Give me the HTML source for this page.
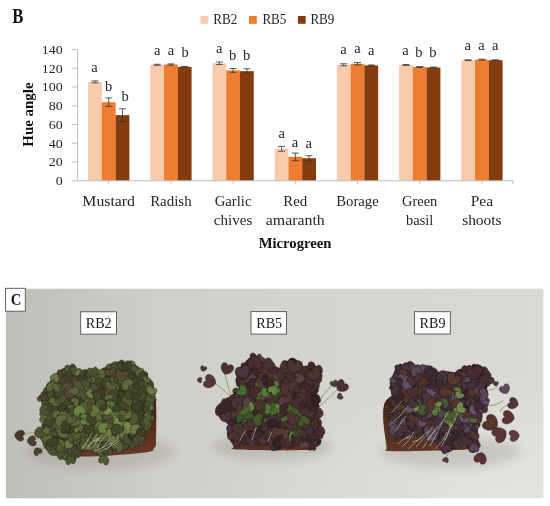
<!DOCTYPE html>
<html><head><meta charset="utf-8"><title>Figure</title>
<style>
html,body{margin:0;padding:0;background:#fff}
svg{display:block}
text{font-family:"Liberation Serif","DejaVu Serif",serif;fill:#262626}
.b{font-weight:bold;fill:#111}
</style></head><body>
<svg width="550" height="506" viewBox="0 0 550 506">
<rect width="550" height="506" fill="#fff"/>
<text class="b" x="12.3" y="23.1" font-size="20.6" textLength="11.1" lengthAdjust="spacingAndGlyphs">B</text>
<rect x="200.5" y="16" width="7.8" height="7.8" fill="#F8CBAD"/>
<text x="213.3" y="23.9" font-size="13.6" textLength="24" lengthAdjust="spacingAndGlyphs">RB2</text>
<rect x="249" y="16" width="7.8" height="7.8" fill="#ED7D31"/>
<text x="262.4" y="23.9" font-size="13.6" textLength="24" lengthAdjust="spacingAndGlyphs">RB5</text>
<rect x="297.9" y="16" width="7.8" height="7.8" fill="#843C0C"/>
<text x="310.4" y="23.9" font-size="13.6" textLength="24" lengthAdjust="spacingAndGlyphs">RB9</text>
<rect x="88.07" y="81.85" width="13.80" height="98.95" fill="#F8CBAD"/>
<rect x="101.82" y="102.20" width="13.80" height="78.60" fill="#ED7D31"/>
<rect x="115.57" y="115.15" width="13.80" height="65.65" fill="#843C0C"/>
<rect x="150.28" y="64.78" width="13.80" height="116.02" fill="#F8CBAD"/>
<rect x="164.03" y="64.50" width="13.80" height="116.30" fill="#ED7D31"/>
<rect x="177.78" y="66.85" width="13.80" height="113.95" fill="#843C0C"/>
<rect x="212.47" y="63.28" width="13.80" height="117.52" fill="#F8CBAD"/>
<rect x="226.22" y="70.41" width="13.80" height="110.39" fill="#ED7D31"/>
<rect x="239.97" y="71.16" width="13.80" height="109.64" fill="#843C0C"/>
<rect x="274.68" y="148.82" width="13.80" height="31.98" fill="#F8CBAD"/>
<rect x="288.43" y="156.88" width="13.80" height="23.92" fill="#ED7D31"/>
<rect x="302.18" y="158.20" width="13.80" height="22.60" fill="#843C0C"/>
<rect x="336.88" y="64.78" width="13.80" height="116.02" fill="#F8CBAD"/>
<rect x="350.62" y="63.75" width="13.80" height="117.05" fill="#ED7D31"/>
<rect x="364.38" y="65.44" width="13.80" height="115.36" fill="#843C0C"/>
<rect x="399.08" y="64.97" width="13.80" height="115.83" fill="#F8CBAD"/>
<rect x="412.83" y="67.03" width="13.80" height="113.77" fill="#ED7D31"/>
<rect x="426.58" y="67.50" width="13.80" height="113.30" fill="#843C0C"/>
<rect x="461.28" y="60.19" width="13.80" height="120.61" fill="#F8CBAD"/>
<rect x="475.03" y="59.62" width="13.80" height="121.18" fill="#ED7D31"/>
<rect x="488.78" y="60.19" width="13.80" height="120.61" fill="#843C0C"/>
<path d="M77.6 49.5V180.8H513.0" fill="none" stroke="#bdbdbd" stroke-width="1"/>
<path d="M71.6 180.80H77.6M71.6 162.04H77.6M71.6 143.28H77.6M71.6 124.53H77.6M71.6 105.77H77.6M71.6 87.01H77.6M71.6 68.25H77.6M71.6 49.49H77.6M108.70 180.8v3.2M170.90 180.8v3.2M233.10 180.8v3.2M295.30 180.8v3.2M357.50 180.8v3.2M419.70 180.8v3.2M481.90 180.8v3.2M513.00 180.8v3.2" fill="none" stroke="#bdbdbd" stroke-width="1"/>
<text x="62.7" y="185.20" font-size="13" text-anchor="end" textLength="7" lengthAdjust="spacingAndGlyphs">0</text>
<text x="62.7" y="166.44" font-size="13" text-anchor="end" textLength="14" lengthAdjust="spacingAndGlyphs">20</text>
<text x="62.7" y="147.68" font-size="13" text-anchor="end" textLength="14" lengthAdjust="spacingAndGlyphs">40</text>
<text x="62.7" y="128.93" font-size="13" text-anchor="end" textLength="14" lengthAdjust="spacingAndGlyphs">60</text>
<text x="62.7" y="110.17" font-size="13" text-anchor="end" textLength="14" lengthAdjust="spacingAndGlyphs">80</text>
<text x="62.7" y="91.41" font-size="13" text-anchor="end" textLength="21" lengthAdjust="spacingAndGlyphs">100</text>
<text x="62.7" y="72.65" font-size="13" text-anchor="end" textLength="21" lengthAdjust="spacingAndGlyphs">120</text>
<text x="62.7" y="53.89" font-size="13" text-anchor="end" textLength="21" lengthAdjust="spacingAndGlyphs">140</text>
<path d="M94.95 80.85V82.85M91.45 80.85h7M91.45 82.85h7M108.70 97.90V106.50M105.20 97.90h7M105.20 106.50h7M122.45 108.75V121.55M118.95 108.75h7M118.95 121.55h7M157.15 64.28V65.28M153.65 64.28h7M153.65 65.28h7M170.90 63.90V65.10M167.40 63.90h7M167.40 65.10h7M184.65 66.35V67.35M181.15 66.35h7M181.15 67.35h7M219.35 61.98V64.58M215.85 61.98h7M215.85 64.58h7M233.10 68.51V72.31M229.60 68.51h7M229.60 72.31h7M246.85 68.76V73.56M243.35 68.76h7M243.35 73.56h7M281.55 146.42V151.22M278.05 146.42h7M278.05 151.22h7M295.30 153.08V160.68M291.80 153.08h7M291.80 160.68h7M309.05 155.70V160.70M305.55 155.70h7M305.55 160.70h7M343.75 63.78V65.78M340.25 63.78h7M340.25 65.78h7M357.50 62.55V64.95M354.00 62.55h7M354.00 64.95h7M371.25 64.94V65.94M367.75 64.94h7M367.75 65.94h7M405.95 64.47V65.47M402.45 64.47h7M402.45 65.47h7M419.70 66.53V67.53M416.20 66.53h7M416.20 67.53h7M433.45 67.00V68.00M429.95 67.00h7M429.95 68.00h7M468.15 59.79V60.59M464.65 59.79h7M464.65 60.59h7M481.90 59.22V60.02M478.40 59.22h7M478.40 60.02h7M495.65 59.79V60.59M492.15 59.79h7M492.15 60.59h7" fill="none" stroke="#333" stroke-width="0.8"/>
<text x="94.4" y="71.6" font-size="14.5" text-anchor="middle">a</text>
<text x="108.7" y="91.4" font-size="14.5" text-anchor="middle">b</text>
<text x="125" y="101" font-size="14.5" text-anchor="middle">b</text>
<text x="157.3" y="54.5" font-size="14.5" text-anchor="middle">a</text>
<text x="171" y="54.5" font-size="14.5" text-anchor="middle">a</text>
<text x="185" y="56.5" font-size="14.5" text-anchor="middle">b</text>
<text x="219.1" y="52.7" font-size="14.5" text-anchor="middle">a</text>
<text x="232.6" y="59.9" font-size="14.5" text-anchor="middle">b</text>
<text x="246.6" y="60.4" font-size="14.5" text-anchor="middle">b</text>
<text x="281.6" y="138.2" font-size="14.5" text-anchor="middle">a</text>
<text x="294.9" y="146.6" font-size="14.5" text-anchor="middle">a</text>
<text x="308.6" y="148.1" font-size="14.5" text-anchor="middle">a</text>
<text x="343.4" y="54.4" font-size="14.5" text-anchor="middle">a</text>
<text x="357.4" y="53.4" font-size="14.5" text-anchor="middle">a</text>
<text x="371.2" y="55.2" font-size="14.5" text-anchor="middle">a</text>
<text x="405.5" y="54.9" font-size="14.5" text-anchor="middle">a</text>
<text x="418.8" y="56.7" font-size="14.5" text-anchor="middle">b</text>
<text x="432.8" y="56.7" font-size="14.5" text-anchor="middle">b</text>
<text x="467.8" y="50.4" font-size="14.5" text-anchor="middle">a</text>
<text x="481.5" y="49.9" font-size="14.5" text-anchor="middle">a</text>
<text x="495.3" y="50.4" font-size="14.5" text-anchor="middle">a</text>
<text x="82.35" y="205.9" font-size="13.8" textLength="52.7" lengthAdjust="spacingAndGlyphs">Mustard</text>
<text x="150.15" y="205.9" font-size="13.8" textLength="41.5" lengthAdjust="spacingAndGlyphs">Radish</text>
<text x="214.75" y="205.9" font-size="13.8" textLength="36.7" lengthAdjust="spacingAndGlyphs">Garlic</text>
<text x="213.85" y="225.1" font-size="13.8" textLength="38.5" lengthAdjust="spacingAndGlyphs">chives</text>
<text x="283.30" y="205.9" font-size="13.8" textLength="24" lengthAdjust="spacingAndGlyphs">Red</text>
<text x="265.85" y="225.1" font-size="13.8" textLength="58.9" lengthAdjust="spacingAndGlyphs">amaranth</text>
<text x="336.25" y="205.9" font-size="13.8" textLength="42.5" lengthAdjust="spacingAndGlyphs">Borage</text>
<text x="402.10" y="205.9" font-size="13.8" textLength="35.2" lengthAdjust="spacingAndGlyphs">Green</text>
<text x="406.05" y="225.1" font-size="13.8" textLength="27.3" lengthAdjust="spacingAndGlyphs">basil</text>
<text x="470.65" y="205.9" font-size="13.8" textLength="22.5" lengthAdjust="spacingAndGlyphs">Pea</text>
<text x="462.15" y="225.1" font-size="13.8" textLength="39.5" lengthAdjust="spacingAndGlyphs">shoots</text>
<text class="b" x="258.7" y="247.9" font-size="13.6" textLength="72.8" lengthAdjust="spacingAndGlyphs">Microgreen</text>
<text class="b" transform="translate(33.4 146.7) rotate(-90)" font-size="13.6" textLength="64.3" lengthAdjust="spacingAndGlyphs">Hue angle</text>
<defs>
<path id="lf" d="M0 1C-.5 .9-1.1 .3-1-.35C-.92-.95-.2-1 0-.45C.2-1 .92-.95 1-.35C1.1 .3 .5 .9 0 1Z"/>
<clipPath id="pc"><rect x="6.0" y="288.5" width="537.6" height="210.0"/></clipPath>
<linearGradient id="bg" x1="0" y1="0" x2="1" y2="0"><stop offset="0" stop-color="#c0beb8"/><stop offset=".1" stop-color="#c5c3bd"/><stop offset=".28" stop-color="#d0cec8"/><stop offset=".6" stop-color="#d6d4cf"/><stop offset="1" stop-color="#dbd9d4"/></linearGradient>
<radialGradient id="bg2" cx=".95" cy="1" r=".6"><stop offset="0" stop-color="#fff" stop-opacity=".28"/><stop offset="1" stop-color="#fff" stop-opacity="0"/></radialGradient>
<filter id="b2" x="-20%" y="-20%" width="140%" height="140%"><feGaussianBlur stdDeviation="1.2"/></filter>
<filter id="b5" x="-30%" y="-50%" width="160%" height="200%"><feGaussianBlur stdDeviation="5"/></filter>
<linearGradient id="tg" x1="0" y1="0" x2="0" y2="1"><stop offset="0" stop-color="#1c0f0a" stop-opacity=".55"/><stop offset=".7" stop-color="#1c0f0a" stop-opacity=".15"/><stop offset="1" stop-color="#1c0f0a" stop-opacity="0"/></linearGradient>
<filter id="b06"><feGaussianBlur stdDeviation=".7"/></filter>
</defs>
<g clip-path="url(#pc)">
<rect x="6.0" y="288.5" width="537.6" height="210.0" fill="url(#bg)"/>
<rect x="6.0" y="288.5" width="537.6" height="210.0" fill="url(#bg2)"/>
<ellipse cx="100" cy="452" rx="75" ry="18" fill="#8a8780" opacity=".28" filter="url(#b5)"/>
<g filter="url(#b06)">
<path d="M74.0 438.0C71.5 442.7 74.2 449.9 75.0 453.0C75.8 456.1 73.2 456.1 79.0 456.5C84.8 456.9 98.5 456.2 110.0 455.5C121.5 454.8 140.7 453.2 148.0 452.0C155.3 450.8 152.7 449.7 154.0 448.0C155.3 446.3 155.7 449.3 156.0 442.0C156.3 434.7 156.5 411.0 156.0 404.0C155.5 397.0 159.0 399.0 153.0 400.0C147.0 401.0 130.5 405.8 120.0 410.0C109.5 414.2 97.7 420.3 90.0 425.0C82.3 429.7 76.5 433.3 74.0 438.0Z" fill="#683a25"/>
<path d="M74.0 438.0C71.5 442.7 74.2 449.9 75.0 453.0C75.8 456.1 73.2 456.1 79.0 456.5C84.8 456.9 98.5 456.2 110.0 455.5C121.5 454.8 140.7 453.2 148.0 452.0C155.3 450.8 152.7 449.7 154.0 448.0C155.3 446.3 155.7 449.3 156.0 442.0C156.3 434.7 156.5 411.0 156.0 404.0C155.5 397.0 159.0 399.0 153.0 400.0C147.0 401.0 130.5 405.8 120.0 410.0C109.5 414.2 97.7 420.3 90.0 425.0C82.3 429.7 76.5 433.3 74.0 438.0Z" fill="url(#tg)"/>
<circle cx="93.5" cy="430.7" r="0.8" fill="#452416" opacity=".6"/>
<circle cx="104.3" cy="434.1" r="1.4" fill="#452416" opacity=".6"/>
<circle cx="75.1" cy="447.3" r="0.9" fill="#452416" opacity=".6"/>
<circle cx="155.6" cy="426.6" r="1.1" fill="#7d4e38" opacity=".6"/>
<circle cx="142.6" cy="426.9" r="1.5" fill="#7d4e38" opacity=".6"/>
<circle cx="126.4" cy="408.5" r="1.4" fill="#7d4e38" opacity=".6"/>
<circle cx="126.1" cy="449.0" r="1.5" fill="#452416" opacity=".6"/>
<circle cx="116.9" cy="441.9" r="1.4" fill="#452416" opacity=".6"/>
<circle cx="136.2" cy="433.4" r="0.8" fill="#7d4e38" opacity=".6"/>
<circle cx="145.0" cy="426.7" r="1.1" fill="#7d4e38" opacity=".6"/>
<circle cx="132.9" cy="449.7" r="1.1" fill="#452416" opacity=".6"/>
<circle cx="132.6" cy="452.0" r="1.1" fill="#7d4e38" opacity=".6"/>
<circle cx="106.4" cy="445.3" r="1.0" fill="#7d4e38" opacity=".6"/>
<circle cx="110.5" cy="452.9" r="1.6" fill="#7d4e38" opacity=".6"/>
<circle cx="146.1" cy="405.5" r="1.1" fill="#7d4e38" opacity=".6"/>
<circle cx="153.2" cy="424.6" r="0.9" fill="#452416" opacity=".6"/>
<circle cx="125.4" cy="417.0" r="1.8" fill="#452416" opacity=".6"/>
<circle cx="115.6" cy="421.8" r="1.5" fill="#7d4e38" opacity=".6"/>
<circle cx="102.8" cy="433.1" r="1.3" fill="#452416" opacity=".6"/>
<circle cx="121.9" cy="451.1" r="1.6" fill="#452416" opacity=".6"/>
<circle cx="129.9" cy="452.5" r="1.1" fill="#452416" opacity=".6"/>
<circle cx="129.0" cy="409.2" r="1.2" fill="#452416" opacity=".6"/>
<circle cx="148.2" cy="432.2" r="0.9" fill="#452416" opacity=".6"/>
<circle cx="132.5" cy="411.9" r="1.1" fill="#7d4e38" opacity=".6"/>
<circle cx="142.2" cy="432.4" r="1.5" fill="#452416" opacity=".6"/>
<circle cx="81.3" cy="445.2" r="1.2" fill="#452416" opacity=".6"/>
<circle cx="98.1" cy="443.4" r="0.9" fill="#452416" opacity=".6"/>
<circle cx="145.6" cy="402.5" r="1.5" fill="#452416" opacity=".6"/>
<circle cx="132.9" cy="418.7" r="1.3" fill="#452416" opacity=".6"/>
<circle cx="124.1" cy="408.8" r="1.6" fill="#452416" opacity=".6"/>
<circle cx="77.5" cy="449.0" r="1.3" fill="#452416" opacity=".6"/>
<circle cx="99.7" cy="454.2" r="1.1" fill="#452416" opacity=".6"/>
<circle cx="147.5" cy="421.3" r="1.0" fill="#7d4e38" opacity=".6"/>
<circle cx="111.8" cy="429.4" r="1.1" fill="#452416" opacity=".6"/>
<circle cx="126.8" cy="433.7" r="0.9" fill="#452416" opacity=".6"/>
<circle cx="119.9" cy="435.0" r="1.1" fill="#452416" opacity=".6"/>
<circle cx="151.1" cy="428.6" r="1.2" fill="#452416" opacity=".6"/>
<circle cx="109.4" cy="440.7" r="1.6" fill="#7d4e38" opacity=".6"/>
<circle cx="154.2" cy="429.4" r="1.3" fill="#452416" opacity=".6"/>
<circle cx="108.0" cy="432.8" r="1.2" fill="#7d4e38" opacity=".6"/>
<path d="M22 435Q31.4 431.2 40 433" stroke="#8f9a60" stroke-width=".9" fill="none"/>
<path d="M34 440Q41.5 436.7 50 437" stroke="#8f9a60" stroke-width=".9" fill="none"/>
<path d="M40 449Q47.9 448.5 56 444" stroke="#8f9a60" stroke-width=".9" fill="none"/>
<path d="M49.0 383.0C50.1 381.2 52.3 378.0 54.0 376.0C55.7 374.0 57.2 372.3 59.0 371.0C60.8 369.7 63.0 368.8 65.0 368.0C67.0 367.2 68.8 366.2 71.0 366.5C73.2 366.8 75.2 369.0 78.0 370.0C80.8 371.0 85.2 372.6 88.0 372.5C90.8 372.4 92.0 369.8 94.5 369.5C97.0 369.2 100.4 371.5 103.0 371.0C105.6 370.5 107.8 367.8 110.0 366.5C112.2 365.2 113.8 363.8 116.0 363.0C118.2 362.2 120.5 362.2 123.0 362.0C125.5 361.8 128.5 361.2 131.0 362.0C133.5 362.8 135.3 364.3 138.0 366.5C140.7 368.7 144.6 371.6 147.0 375.0C149.4 378.4 151.1 383.3 152.5 387.0C153.9 390.7 155.2 394.2 155.5 397.0C155.8 399.8 154.8 401.8 154.0 404.0C153.2 406.2 151.3 407.7 151.0 410.0C150.7 412.3 152.7 414.8 152.0 418.0C151.3 421.2 148.6 425.2 147.0 429.0C145.4 432.8 144.7 438.0 142.5 441.0C140.3 444.0 137.6 445.8 134.0 447.0C130.4 448.2 124.5 447.2 121.0 448.0C117.5 448.8 115.5 450.7 113.0 452.0C110.5 453.3 108.2 455.5 106.0 456.0C103.8 456.5 101.8 456.0 100.0 455.0C98.2 454.0 98.3 450.7 95.0 450.0C91.7 449.3 83.8 449.2 80.0 451.0C76.2 452.8 75.0 459.8 72.5 461.0C70.0 462.2 67.4 459.4 65.0 458.5C62.6 457.6 60.4 456.8 58.0 455.5C55.6 454.2 52.7 452.6 50.5 451.0C48.3 449.4 46.9 448.8 45.0 446.0C43.1 443.2 39.2 437.3 39.0 434.0C38.8 430.7 43.2 429.2 43.5 426.0C43.8 422.8 40.4 418.0 40.5 414.5C40.6 411.0 44.2 407.7 44.0 405.0C43.8 402.3 39.1 400.6 39.0 398.5C38.9 396.4 42.1 394.4 43.5 392.5C44.9 390.6 46.6 388.6 47.5 387.0C48.4 385.4 47.9 384.8 49.0 383.0Z" fill="#2c311d" opacity=".9"/>
<g stroke="#17170f" stroke-opacity=".45" stroke-width=".14">
<use href="#lf" transform="translate(54.7 434.1) rotate(195) scale(4.60 3.67)" fill="#4c5133"/>
<use href="#lf" transform="translate(139.6 439.9) rotate(79) scale(5.70 4.86)" fill="#4c5133"/>
<use href="#lf" transform="translate(72.8 446.7) rotate(115) scale(5.22 4.76)" fill="#48452f"/>
<use href="#lf" transform="translate(126.1 391.1) rotate(260) scale(6.10 5.84)" fill="#48452f"/>
<use href="#lf" transform="translate(111.6 412.8) rotate(103) scale(6.24 4.71)" fill="#48452f"/>
<use href="#lf" transform="translate(106.8 401.6) rotate(80) scale(5.72 5.12)" fill="#3e4228"/>
<use href="#lf" transform="translate(142.4 411.4) rotate(348) scale(5.02 3.71)" fill="#4c5133"/>
<use href="#lf" transform="translate(66.0 404.6) rotate(284) scale(5.14 5.12)" fill="#43492c"/>
<use href="#lf" transform="translate(102.0 387.9) rotate(159) scale(5.56 3.98)" fill="#524834"/>
<use href="#lf" transform="translate(130.3 365.6) rotate(198) scale(5.32 4.96)" fill="#524834"/>
<use href="#lf" transform="translate(98.7 447.0) rotate(308) scale(4.53 3.46)" fill="#4c5133"/>
<use href="#lf" transform="translate(133.5 435.0) rotate(185) scale(4.56 3.95)" fill="#3b4027"/>
<use href="#lf" transform="translate(67.9 454.5) rotate(155) scale(6.34 5.18)" fill="#4d5331"/>
<use href="#lf" transform="translate(116.2 385.9) rotate(4) scale(5.63 4.80)" fill="#48452f"/>
<use href="#lf" transform="translate(124.1 444.3) rotate(134) scale(5.28 4.78)" fill="#3e4228"/>
<use href="#lf" transform="translate(148.5 396.2) rotate(178) scale(4.63 3.55)" fill="#48452f"/>
<use href="#lf" transform="translate(101.2 414.0) rotate(221) scale(5.22 3.98)" fill="#5f7338"/>
<use href="#lf" transform="translate(120.8 391.6) rotate(71) scale(5.36 4.62)" fill="#3b4027"/>
<use href="#lf" transform="translate(87.6 410.8) rotate(192) scale(6.43 5.89)" fill="#4d5331"/>
<use href="#lf" transform="translate(130.0 399.5) rotate(77) scale(6.16 5.58)" fill="#48452f"/>
<use href="#lf" transform="translate(132.2 424.6) rotate(317) scale(4.67 3.58)" fill="#4c5133"/>
<use href="#lf" transform="translate(75.4 373.7) rotate(110) scale(4.71 3.56)" fill="#524834"/>
<use href="#lf" transform="translate(103.0 393.7) rotate(216) scale(6.21 5.15)" fill="#3b4027"/>
<use href="#lf" transform="translate(138.2 412.1) rotate(138) scale(6.15 5.84)" fill="#4c5133"/>
<use href="#lf" transform="translate(78.4 394.7) rotate(99) scale(4.80 3.66)" fill="#4c5133"/>
<use href="#lf" transform="translate(120.6 385.4) rotate(211) scale(5.80 4.58)" fill="#3e4228"/>
<use href="#lf" transform="translate(87.4 391.6) rotate(231) scale(5.03 4.57)" fill="#3e4228"/>
<use href="#lf" transform="translate(91.5 445.6) rotate(159) scale(4.58 4.23)" fill="#4d5331"/>
<use href="#lf" transform="translate(52.9 423.6) rotate(306) scale(5.11 4.31)" fill="#48452f"/>
<use href="#lf" transform="translate(138.4 401.3) rotate(322) scale(5.33 4.79)" fill="#4d5331"/>
<use href="#lf" transform="translate(148.6 385.9) rotate(317) scale(5.82 5.62)" fill="#43492c"/>
<use href="#lf" transform="translate(74.8 455.1) rotate(141) scale(4.84 3.47)" fill="#3b4027"/>
<use href="#lf" transform="translate(60.2 406.3) rotate(325) scale(5.54 4.75)" fill="#524834"/>
<use href="#lf" transform="translate(108.2 410.4) rotate(31) scale(5.66 5.36)" fill="#768a4a"/>
<use href="#lf" transform="translate(94.4 422.1) rotate(143) scale(6.42 5.77)" fill="#4c5133"/>
<use href="#lf" transform="translate(136.8 376.8) rotate(73) scale(5.56 4.47)" fill="#48452f"/>
<use href="#lf" transform="translate(46.9 418.9) rotate(209) scale(5.69 5.04)" fill="#48452f"/>
<use href="#lf" transform="translate(141.6 385.5) rotate(277) scale(5.18 4.96)" fill="#524834"/>
<use href="#lf" transform="translate(81.6 399.4) rotate(73) scale(6.02 5.52)" fill="#3b4027"/>
<use href="#lf" transform="translate(61.7 388.7) rotate(227) scale(6.29 6.04)" fill="#4c5133"/>
<use href="#lf" transform="translate(84.9 377.0) rotate(296) scale(4.88 3.59)" fill="#4c5133"/>
<use href="#lf" transform="translate(113.7 417.5) rotate(143) scale(6.41 5.94)" fill="#6b8040"/>
<use href="#lf" transform="translate(57.6 383.1) rotate(89) scale(5.12 4.63)" fill="#4d5331"/>
<use href="#lf" transform="translate(75.8 406.9) rotate(85) scale(6.00 4.90)" fill="#48452f"/>
<use href="#lf" transform="translate(141.6 430.1) rotate(90) scale(4.79 3.43)" fill="#48452f"/>
<use href="#lf" transform="translate(129.7 412.6) rotate(264) scale(6.52 5.00)" fill="#43492c"/>
<use href="#lf" transform="translate(86.2 421.2) rotate(203) scale(5.37 4.11)" fill="#6b8040"/>
<use href="#lf" transform="translate(144.1 399.2) rotate(219) scale(5.88 5.32)" fill="#43492c"/>
<use href="#lf" transform="translate(129.9 388.6) rotate(215) scale(5.57 4.90)" fill="#4c5133"/>
<use href="#lf" transform="translate(63.5 397.3) rotate(159) scale(5.78 4.18)" fill="#3b4027"/>
<use href="#lf" transform="translate(140.5 408.1) rotate(165) scale(5.58 4.88)" fill="#3b4027"/>
<use href="#lf" transform="translate(101.1 419.3) rotate(324) scale(4.99 4.08)" fill="#43492c"/>
<use href="#lf" transform="translate(136.5 440.8) rotate(175) scale(5.50 5.49)" fill="#4c5133"/>
<use href="#lf" transform="translate(103.0 384.2) rotate(64) scale(5.46 4.51)" fill="#3e4228"/>
<use href="#lf" transform="translate(47.9 401.3) rotate(52) scale(6.30 4.61)" fill="#48452f"/>
<use href="#lf" transform="translate(140.8 395.2) rotate(306) scale(5.56 4.94)" fill="#4c5133"/>
<use href="#lf" transform="translate(145.8 388.2) rotate(332) scale(4.73 4.01)" fill="#48452f"/>
<use href="#lf" transform="translate(127.5 395.5) rotate(297) scale(5.68 5.04)" fill="#43492c"/>
<use href="#lf" transform="translate(49.7 415.8) rotate(351) scale(5.94 4.70)" fill="#524834"/>
<use href="#lf" transform="translate(51.0 426.8) rotate(318) scale(6.36 5.07)" fill="#524834"/>
<use href="#lf" transform="translate(136.7 406.0) rotate(333) scale(5.30 4.17)" fill="#3e4228"/>
<use href="#lf" transform="translate(121.9 395.5) rotate(244) scale(4.42 4.11)" fill="#3e4228"/>
<use href="#lf" transform="translate(68.1 379.4) rotate(133) scale(5.33 4.13)" fill="#43492c"/>
<use href="#lf" transform="translate(64.8 373.7) rotate(203) scale(5.93 5.42)" fill="#4c5133"/>
<use href="#lf" transform="translate(141.2 417.1) rotate(58) scale(5.11 4.32)" fill="#3e4228"/>
<use href="#lf" transform="translate(69.4 451.1) rotate(168) scale(5.59 4.84)" fill="#4c5133"/>
<use href="#lf" transform="translate(103.8 406.1) rotate(261) scale(5.20 3.96)" fill="#3e4228"/>
<use href="#lf" transform="translate(133.3 374.0) rotate(60) scale(5.51 4.77)" fill="#3b4027"/>
<use href="#lf" transform="translate(67.7 391.5) rotate(139) scale(4.66 3.98)" fill="#524834"/>
<use href="#lf" transform="translate(132.0 380.4) rotate(24) scale(5.27 4.77)" fill="#48452f"/>
<use href="#lf" transform="translate(137.3 425.4) rotate(94) scale(4.91 4.83)" fill="#43492c"/>
<use href="#lf" transform="translate(77.4 428.7) rotate(156) scale(5.45 4.25)" fill="#6b8040"/>
<use href="#lf" transform="translate(69.2 434.4) rotate(341) scale(6.12 4.69)" fill="#3e4228"/>
<use href="#lf" transform="translate(147.6 406.1) rotate(285) scale(6.57 5.27)" fill="#3e4228"/>
<use href="#lf" transform="translate(86.4 402.9) rotate(313) scale(4.64 3.56)" fill="#5f7338"/>
<use href="#lf" transform="translate(60.9 378.8) rotate(351) scale(5.41 5.13)" fill="#48452f"/>
<use href="#lf" transform="translate(52.1 384.7) rotate(15) scale(4.06 3.17)" fill="#565c36"/>
<use href="#lf" transform="translate(54.4 381.5) rotate(134) scale(4.72 4.35)" fill="#565c36"/>
<use href="#lf" transform="translate(56.7 378.2) rotate(247) scale(4.71 4.68)" fill="#4d5331"/>
<use href="#lf" transform="translate(59.1 375.9) rotate(106) scale(4.57 4.01)" fill="#524834"/>
<use href="#lf" transform="translate(61.4 373.6) rotate(17) scale(4.50 3.73)" fill="#48452f"/>
<use href="#lf" transform="translate(64.2 372.2) rotate(285) scale(3.80 3.24)" fill="#48452f"/>
<use href="#lf" transform="translate(67.0 370.9) rotate(305) scale(5.52 4.93)" fill="#494f2f"/>
<use href="#lf" transform="translate(69.8 370.2) rotate(226) scale(4.26 3.94)" fill="#5a6338"/>
<use href="#lf" transform="translate(72.7 369.6) rotate(73) scale(5.46 4.18)" fill="#48452f"/>
<use href="#lf" transform="translate(76.0 371.4) rotate(27) scale(5.52 5.09)" fill="#4d5331"/>
<use href="#lf" transform="translate(79.3 373.2) rotate(196) scale(4.07 3.84)" fill="#6a7745"/>
<use href="#lf" transform="translate(83.9 374.6) rotate(93) scale(5.12 4.54)" fill="#43492c"/>
<use href="#lf" transform="translate(88.5 376.0) rotate(50) scale(5.39 4.90)" fill="#3b4027"/>
<use href="#lf" transform="translate(91.4 374.5) rotate(187) scale(4.93 4.13)" fill="#494f2f"/>
<use href="#lf" transform="translate(94.4 373.0) rotate(220) scale(5.59 4.21)" fill="#524834"/>
<use href="#lf" transform="translate(98.2 373.7) rotate(25) scale(5.29 4.81)" fill="#6a7745"/>
<use href="#lf" transform="translate(102.1 374.4) rotate(12) scale(4.11 3.77)" fill="#5f673c"/>
<use href="#lf" transform="translate(105.4 372.1) rotate(130) scale(5.30 4.99)" fill="#3b4027"/>
<use href="#lf" transform="translate(108.7 369.7) rotate(290) scale(4.50 4.41)" fill="#565c36"/>
<use href="#lf" transform="translate(111.5 367.9) rotate(226) scale(5.10 4.26)" fill="#565c36"/>
<use href="#lf" transform="translate(114.4 366.1) rotate(124) scale(5.24 3.92)" fill="#4c5133"/>
<use href="#lf" transform="translate(117.7 365.5) rotate(142) scale(4.51 3.31)" fill="#5a6338"/>
<use href="#lf" transform="translate(121.1 364.9) rotate(88) scale(5.00 3.54)" fill="#43492c"/>
<use href="#lf" transform="translate(124.9 364.8) rotate(122) scale(3.85 3.22)" fill="#4c5133"/>
<use href="#lf" transform="translate(128.8 364.7) rotate(230) scale(4.72 3.84)" fill="#5a6338"/>
<use href="#lf" transform="translate(132.1 366.8) rotate(75) scale(5.42 4.48)" fill="#5a6338"/>
<use href="#lf" transform="translate(135.4 368.9) rotate(23) scale(4.36 3.64)" fill="#525934"/>
<use href="#lf" transform="translate(139.7 372.8) rotate(102) scale(4.75 4.67)" fill="#5a6338"/>
<use href="#lf" transform="translate(144.0 376.8) rotate(187) scale(4.07 4.07)" fill="#524834"/>
<use href="#lf" transform="translate(146.6 382.5) rotate(132) scale(4.10 3.02)" fill="#524834"/>
<use href="#lf" transform="translate(149.2 388.2) rotate(173) scale(4.70 4.33)" fill="#4c5133"/>
<use href="#lf" transform="translate(150.6 392.9) rotate(7) scale(5.19 4.37)" fill="#3b4027"/>
<use href="#lf" transform="translate(152.1 397.6) rotate(255) scale(3.81 3.70)" fill="#565c36"/>
<use href="#lf" transform="translate(151.3 400.9) rotate(243) scale(3.89 3.67)" fill="#524834"/>
<use href="#lf" transform="translate(150.5 404.2) rotate(280) scale(4.68 3.47)" fill="#525934"/>
<use href="#lf" transform="translate(149.0 407.0) rotate(32) scale(4.93 3.51)" fill="#6a7745"/>
<use href="#lf" transform="translate(147.5 409.9) rotate(69) scale(5.54 4.14)" fill="#43492c"/>
<use href="#lf" transform="translate(148.0 413.6) rotate(269) scale(4.50 3.84)" fill="#494f2f"/>
<use href="#lf" transform="translate(148.6 417.4) rotate(30) scale(4.93 3.90)" fill="#6a7745"/>
<use href="#lf" transform="translate(146.1 422.6) rotate(184) scale(5.34 3.85)" fill="#565c36"/>
<use href="#lf" transform="translate(143.7 427.7) rotate(333) scale(5.02 4.52)" fill="#4d5331"/>
<use href="#lf" transform="translate(141.7 433.4) rotate(282) scale(4.40 3.69)" fill="#4d5331"/>
<use href="#lf" transform="translate(139.6 439.0) rotate(10) scale(4.88 4.12)" fill="#524834"/>
<use href="#lf" transform="translate(135.5 441.8) rotate(283) scale(4.94 3.84)" fill="#494f2f"/>
<use href="#lf" transform="translate(131.5 444.6) rotate(234) scale(4.44 3.75)" fill="#494f2f"/>
<use href="#lf" transform="translate(125.2 444.9) rotate(271) scale(4.56 3.65)" fill="#494f2f"/>
<use href="#lf" transform="translate(119.0 445.1) rotate(86) scale(3.91 2.79)" fill="#5a6338"/>
<use href="#lf" transform="translate(115.3 447.0) rotate(139) scale(4.52 3.30)" fill="#3e4228"/>
<use href="#lf" transform="translate(111.6 448.8) rotate(181) scale(4.12 3.42)" fill="#524834"/>
<use href="#lf" transform="translate(108.3 450.7) rotate(208) scale(4.56 3.78)" fill="#4d5331"/>
<use href="#lf" transform="translate(105.1 452.6) rotate(264) scale(3.87 3.17)" fill="#525934"/>
<use href="#lf" transform="translate(102.3 452.1) rotate(141) scale(5.43 4.16)" fill="#5f673c"/>
<use href="#lf" transform="translate(99.5 451.5) rotate(71) scale(4.21 2.99)" fill="#5a6338"/>
<use href="#lf" transform="translate(97.2 449.0) rotate(304) scale(4.54 4.23)" fill="#5a6338"/>
<use href="#lf" transform="translate(94.8 446.5) rotate(136) scale(4.66 4.04)" fill="#5f673c"/>
<use href="#lf" transform="translate(88.0 447.0) rotate(171) scale(4.90 4.38)" fill="#3b4027"/>
<use href="#lf" transform="translate(81.0 447.7) rotate(329) scale(5.09 4.43)" fill="#4c5133"/>
<use href="#lf" transform="translate(77.4 452.7) rotate(346) scale(5.03 5.00)" fill="#43492c"/>
<use href="#lf" transform="translate(73.8 457.7) rotate(280) scale(4.05 2.98)" fill="#43492c"/>
<use href="#lf" transform="translate(70.2 456.6) rotate(341) scale(4.87 4.21)" fill="#524834"/>
<use href="#lf" transform="translate(66.7 455.4) rotate(152) scale(4.03 3.01)" fill="#48452f"/>
<use href="#lf" transform="translate(63.4 454.1) rotate(226) scale(5.04 4.01)" fill="#565c36"/>
<use href="#lf" transform="translate(60.1 452.7) rotate(334) scale(4.60 3.98)" fill="#524834"/>
<use href="#lf" transform="translate(56.5 450.6) rotate(123) scale(4.86 3.97)" fill="#5f673c"/>
<use href="#lf" transform="translate(53.0 448.5) rotate(101) scale(5.56 4.23)" fill="#43492c"/>
<use href="#lf" transform="translate(50.4 446.2) rotate(308) scale(4.50 3.46)" fill="#3e4228"/>
<use href="#lf" transform="translate(47.7 443.8) rotate(120) scale(5.42 5.05)" fill="#524834"/>
<use href="#lf" transform="translate(45.0 438.1) rotate(75) scale(5.30 4.34)" fill="#494f2f"/>
<use href="#lf" transform="translate(42.1 432.5) rotate(107) scale(4.71 4.62)" fill="#4c5133"/>
<use href="#lf" transform="translate(44.5 428.6) rotate(295) scale(5.16 4.83)" fill="#43492c"/>
<use href="#lf" transform="translate(46.8 424.8) rotate(105) scale(4.42 4.38)" fill="#3e4228"/>
<use href="#lf" transform="translate(45.4 419.4) rotate(329) scale(5.43 5.07)" fill="#5f673c"/>
<use href="#lf" transform="translate(44.0 414.1) rotate(90) scale(4.62 4.49)" fill="#5f673c"/>
<use href="#lf" transform="translate(45.7 409.6) rotate(104) scale(4.28 3.25)" fill="#5f673c"/>
<use href="#lf" transform="translate(47.5 405.2) rotate(112) scale(5.46 3.97)" fill="#6a7745"/>
<use href="#lf" transform="translate(45.0 402.2) rotate(278) scale(4.56 3.66)" fill="#494f2f"/>
<use href="#lf" transform="translate(42.5 399.1) rotate(214) scale(4.98 4.60)" fill="#524834"/>
<use href="#lf" transform="translate(44.7 396.3) rotate(44) scale(4.89 4.71)" fill="#48452f"/>
<use href="#lf" transform="translate(46.8 393.5) rotate(61) scale(4.42 3.16)" fill="#3e4228"/>
<use href="#lf" transform="translate(48.8 391.0) rotate(219) scale(5.20 4.28)" fill="#43492c"/>
<use href="#lf" transform="translate(50.7 388.4) rotate(105) scale(4.40 3.67)" fill="#565c36"/>
<use href="#lf" transform="translate(51.4 386.6) rotate(359) scale(5.07 4.29)" fill="#48452f"/>
<use href="#lf" transform="translate(112.9 378.8) rotate(61) scale(4.49 3.35)" fill="#565c36"/>
<use href="#lf" transform="translate(113.1 435.7) rotate(71) scale(6.23 4.84)" fill="#565c36"/>
<use href="#lf" transform="translate(97.8 428.1) rotate(4) scale(5.08 4.30)" fill="#565c36"/>
<use href="#lf" transform="translate(104.4 380.9) rotate(4) scale(5.49 4.94)" fill="#43492c"/>
<use href="#lf" transform="translate(48.8 421.7) rotate(353) scale(4.65 4.09)" fill="#43492c"/>
<use href="#lf" transform="translate(93.2 399.2) rotate(265) scale(4.62 3.51)" fill="#524834"/>
<use href="#lf" transform="translate(81.5 436.4) rotate(2) scale(5.07 4.80)" fill="#4c5133"/>
<use href="#lf" transform="translate(125.5 367.5) rotate(353) scale(6.30 6.27)" fill="#3b4027"/>
<use href="#lf" transform="translate(75.3 401.6) rotate(231) scale(4.60 3.71)" fill="#5f673c"/>
<use href="#lf" transform="translate(81.5 388.5) rotate(286) scale(5.99 5.31)" fill="#565c36"/>
<use href="#lf" transform="translate(82.5 446.4) rotate(197) scale(6.30 4.34)" fill="#43492c"/>
<use href="#lf" transform="translate(146.6 424.5) rotate(240) scale(6.03 5.67)" fill="#4c5133"/>
<use href="#lf" transform="translate(112.3 444.4) rotate(238) scale(4.87 4.53)" fill="#3b4027"/>
<use href="#lf" transform="translate(82.1 422.8) rotate(158) scale(4.32 3.30)" fill="#6b8040"/>
<use href="#lf" transform="translate(117.0 434.9) rotate(353) scale(5.27 4.71)" fill="#3e4228"/>
<use href="#lf" transform="translate(93.3 379.6) rotate(69) scale(4.23 3.71)" fill="#5f673c"/>
<use href="#lf" transform="translate(50.4 393.6) rotate(272) scale(4.24 2.94)" fill="#4d5331"/>
<use href="#lf" transform="translate(52.1 386.4) rotate(160) scale(6.23 4.95)" fill="#5f673c"/>
<use href="#lf" transform="translate(98.8 377.8) rotate(223) scale(5.33 4.03)" fill="#525934"/>
<use href="#lf" transform="translate(92.2 372.8) rotate(28) scale(5.71 4.04)" fill="#525934"/>
<use href="#lf" transform="translate(79.0 440.0) rotate(158) scale(6.36 4.67)" fill="#4d5331"/>
<use href="#lf" transform="translate(96.1 417.6) rotate(193) scale(6.38 5.86)" fill="#566c36"/>
<use href="#lf" transform="translate(98.3 382.8) rotate(107) scale(6.06 4.33)" fill="#43492c"/>
<use href="#lf" transform="translate(97.5 406.8) rotate(109) scale(5.13 4.11)" fill="#5f673c"/>
<use href="#lf" transform="translate(82.4 428.9) rotate(36) scale(4.72 4.28)" fill="#5a6338"/>
<use href="#lf" transform="translate(151.5 390.6) rotate(20) scale(5.26 4.26)" fill="#6a7745"/>
<use href="#lf" transform="translate(118.2 446.6) rotate(217) scale(5.78 5.56)" fill="#5a6338"/>
<use href="#lf" transform="translate(114.3 387.8) rotate(268) scale(5.48 5.16)" fill="#525934"/>
<use href="#lf" transform="translate(66.2 423.7) rotate(283) scale(4.66 3.17)" fill="#524834"/>
<use href="#lf" transform="translate(133.9 419.2) rotate(293) scale(5.86 4.72)" fill="#525934"/>
<use href="#lf" transform="translate(88.7 383.8) rotate(73) scale(5.91 5.32)" fill="#524834"/>
<use href="#lf" transform="translate(116.9 368.5) rotate(327) scale(6.50 4.23)" fill="#524834"/>
<use href="#lf" transform="translate(85.0 432.9) rotate(72) scale(4.63 4.10)" fill="#565c36"/>
<use href="#lf" transform="translate(48.6 412.2) rotate(132) scale(4.48 4.19)" fill="#4c5133"/>
<use href="#lf" transform="translate(75.3 436.2) rotate(1) scale(5.81 4.39)" fill="#565c36"/>
<use href="#lf" transform="translate(117.4 438.2) rotate(328) scale(5.64 4.29)" fill="#6a7745"/>
<use href="#lf" transform="translate(127.1 405.1) rotate(225) scale(4.90 4.16)" fill="#5a6338"/>
<use href="#lf" transform="translate(108.1 417.6) rotate(354) scale(4.95 3.33)" fill="#4c5133"/>
<use href="#lf" transform="translate(71.8 426.7) rotate(131) scale(5.53 5.18)" fill="#3e4228"/>
<use href="#lf" transform="translate(143.4 374.2) rotate(171) scale(4.63 3.16)" fill="#3e4228"/>
<use href="#lf" transform="translate(81.7 394.7) rotate(209) scale(6.24 5.10)" fill="#4c5133"/>
<use href="#lf" transform="translate(117.6 400.9) rotate(194) scale(5.42 4.95)" fill="#3b4027"/>
<use href="#lf" transform="translate(117.4 412.0) rotate(359) scale(4.75 4.02)" fill="#566c36"/>
<use href="#lf" transform="translate(60.2 438.4) rotate(282) scale(5.04 4.30)" fill="#3e4228"/>
<use href="#lf" transform="translate(117.8 378.9) rotate(154) scale(4.56 3.61)" fill="#494f2f"/>
<use href="#lf" transform="translate(123.7 425.1) rotate(145) scale(5.31 5.27)" fill="#5f7338"/>
<use href="#lf" transform="translate(66.4 449.0) rotate(110) scale(4.84 3.16)" fill="#43492c"/>
<use href="#lf" transform="translate(114.1 371.0) rotate(287) scale(6.51 5.93)" fill="#4d5331"/>
<use href="#lf" transform="translate(47.2 435.7) rotate(316) scale(5.15 3.80)" fill="#525934"/>
<use href="#lf" transform="translate(94.1 387.7) rotate(156) scale(4.39 4.30)" fill="#524834"/>
<use href="#lf" transform="translate(111.4 422.8) rotate(327) scale(4.64 4.22)" fill="#4d5331"/>
<use href="#lf" transform="translate(66.8 438.2) rotate(251) scale(6.43 6.36)" fill="#3e4228"/>
<use href="#lf" transform="translate(73.1 383.9) rotate(342) scale(4.76 3.71)" fill="#4d5331"/>
<use href="#lf" transform="translate(85.1 417.3) rotate(221) scale(5.05 3.72)" fill="#5f7338"/>
<use href="#lf" transform="translate(44.2 433.8) rotate(95) scale(4.58 3.89)" fill="#48452f"/>
<use href="#lf" transform="translate(84.6 406.8) rotate(346) scale(5.34 5.01)" fill="#5a6338"/>
<use href="#lf" transform="translate(110.1 428.3) rotate(319) scale(5.26 4.96)" fill="#4d5331"/>
<use href="#lf" transform="translate(83.8 441.8) rotate(273) scale(6.58 4.49)" fill="#4d5331"/>
<use href="#lf" transform="translate(89.4 441.7) rotate(38) scale(5.11 4.50)" fill="#525934"/>
<use href="#lf" transform="translate(108.2 391.1) rotate(285) scale(5.07 3.83)" fill="#524834"/>
<use href="#lf" transform="translate(57.9 427.0) rotate(239) scale(6.37 5.58)" fill="#4d5331"/>
<use href="#lf" transform="translate(128.9 374.8) rotate(55) scale(6.06 5.03)" fill="#3e4228"/>
<use href="#lf" transform="translate(121.7 430.8) rotate(353) scale(4.89 4.54)" fill="#525934"/>
<use href="#lf" transform="translate(92.0 404.8) rotate(70) scale(5.95 5.22)" fill="#4d5331"/>
<use href="#lf" transform="translate(71.0 408.8) rotate(259) scale(4.71 3.45)" fill="#5f673c"/>
<use href="#lf" transform="translate(52.2 449.0) rotate(95) scale(6.29 5.52)" fill="#4c5133"/>
<use href="#lf" transform="translate(112.2 400.1) rotate(354) scale(6.00 4.98)" fill="#43492c"/>
<use href="#lf" transform="translate(55.1 401.7) rotate(7) scale(6.50 5.16)" fill="#5a6338"/>
<use href="#lf" transform="translate(73.8 390.7) rotate(344) scale(6.24 5.25)" fill="#5a6338"/>
<use href="#lf" transform="translate(62.2 410.0) rotate(112) scale(6.45 4.48)" fill="#3e4228"/>
<use href="#lf" transform="translate(124.2 438.9) rotate(93) scale(5.46 5.09)" fill="#48452f"/>
<use href="#lf" transform="translate(70.0 438.6) rotate(272) scale(5.33 3.96)" fill="#4d5331"/>
<use href="#lf" transform="translate(102.0 373.5) rotate(243) scale(4.78 4.38)" fill="#5a6338"/>
<use href="#lf" transform="translate(51.9 408.2) rotate(30) scale(6.02 3.94)" fill="#3e4228"/>
<use href="#lf" transform="translate(79.9 380.3) rotate(176) scale(5.56 4.70)" fill="#3b4027"/>
<use href="#lf" transform="translate(44.0 411.3) rotate(42) scale(5.24 3.98)" fill="#4d5331"/>
<use href="#lf" transform="translate(94.5 435.8) rotate(128) scale(6.15 5.84)" fill="#4d5331"/>
<use href="#lf" transform="translate(89.7 393.5) rotate(70) scale(5.31 3.92)" fill="#6a7745"/>
<use href="#lf" transform="translate(62.3 433.7) rotate(41) scale(6.05 4.08)" fill="#5f673c"/>
<use href="#lf" transform="translate(66.5 385.8) rotate(194) scale(4.76 4.36)" fill="#524834"/>
<use href="#lf" transform="translate(89.4 430.6) rotate(209) scale(6.18 5.89)" fill="#3e4228"/>
<use href="#lf" transform="translate(146.8 379.4) rotate(27) scale(4.32 2.81)" fill="#5a6338"/>
<use href="#lf" transform="translate(98.0 435.2) rotate(81) scale(4.67 3.62)" fill="#4c5133"/>
<use href="#lf" transform="translate(97.7 423.2) rotate(31) scale(5.48 4.44)" fill="#5f673c"/>
<use href="#lf" transform="translate(127.2 428.4) rotate(295) scale(6.36 5.87)" fill="#768a4a"/>
<use href="#lf" transform="translate(66.9 402.0) rotate(32) scale(4.46 3.78)" fill="#43492c"/>
<use href="#lf" transform="translate(94.4 371.9) rotate(300) scale(4.93 3.52)" fill="#4c5133"/>
<use href="#lf" transform="translate(97.2 396.5) rotate(248) scale(4.64 4.45)" fill="#43492c"/>
<use href="#lf" transform="translate(117.6 422.5) rotate(55) scale(5.40 4.04)" fill="#768a4a"/>
<use href="#lf" transform="translate(73.9 421.8) rotate(22) scale(6.33 4.78)" fill="#5a6338"/>
<use href="#lf" transform="translate(110.8 440.4) rotate(317) scale(5.82 4.13)" fill="#6a7745"/>
<use href="#lf" transform="translate(137.1 391.6) rotate(9) scale(5.70 5.25)" fill="#43492c"/>
<use href="#lf" transform="translate(75.4 451.0) rotate(39) scale(4.77 4.50)" fill="#48452f"/>
<use href="#lf" transform="translate(104.2 444.3) rotate(315) scale(5.53 4.01)" fill="#494f2f"/>
<use href="#lf" transform="translate(110.8 371.9) rotate(337) scale(6.06 4.13)" fill="#524834"/>
<use href="#lf" transform="translate(97.9 439.8) rotate(166) scale(4.80 3.50)" fill="#6b8040"/>
<use href="#lf" transform="translate(106.9 433.6) rotate(345) scale(6.33 5.15)" fill="#6b8040"/>
<use href="#lf" transform="translate(61.4 399.0) rotate(321) scale(6.27 4.14)" fill="#4d5331"/>
<use href="#lf" transform="translate(61.4 423.9) rotate(300) scale(5.13 4.08)" fill="#5f673c"/>
<use href="#lf" transform="translate(110.3 386.3) rotate(32) scale(5.99 3.95)" fill="#565c36"/>
<use href="#lf" transform="translate(91.7 418.6) rotate(85) scale(6.53 5.32)" fill="#3e4228"/>
<use href="#lf" transform="translate(113.9 395.1) rotate(105) scale(5.88 5.47)" fill="#43492c"/>
<use href="#lf" transform="translate(66.4 412.7) rotate(206) scale(5.06 4.96)" fill="#3b4027"/>
<use href="#lf" transform="translate(68.9 395.2) rotate(25) scale(4.96 3.43)" fill="#524834"/>
<use href="#lf" transform="translate(59.2 444.6) rotate(247) scale(6.27 6.24)" fill="#5a6338"/>
<use href="#lf" transform="translate(72.4 413.3) rotate(307) scale(5.72 5.51)" fill="#494f2f"/>
<use href="#lf" transform="translate(55.9 413.9) rotate(124) scale(4.32 3.34)" fill="#5f673c"/>
<use href="#lf" transform="translate(126.7 401.9) rotate(24) scale(5.76 4.91)" fill="#525934"/>
<use href="#lf" transform="translate(111.6 404.9) rotate(226) scale(5.51 3.74)" fill="#566c36"/>
<use href="#lf" transform="translate(123.6 378.9) rotate(176) scale(5.60 5.53)" fill="#5f673c"/>
<use href="#lf" transform="translate(123.1 417.4) rotate(346) scale(5.13 4.28)" fill="#494f2f"/>
<use href="#lf" transform="translate(85.7 385.1) rotate(246) scale(6.01 4.37)" fill="#4c5133"/>
<use href="#lf" transform="translate(135.0 429.0) rotate(142) scale(5.94 5.18)" fill="#6a7745"/>
<use href="#lf" transform="translate(73.6 380.1) rotate(250) scale(4.90 3.45)" fill="#48452f"/>
<use href="#lf" transform="translate(56.4 388.5) rotate(238) scale(5.84 3.80)" fill="#5a6338"/>
<use href="#lf" transform="translate(135.9 396.2) rotate(351) scale(4.61 4.19)" fill="#3e4228"/>
<use href="#lf" transform="translate(50.6 445.3) rotate(290) scale(5.19 4.17)" fill="#494f2f"/>
<use href="#lf" transform="translate(44.7 431.0) rotate(355) scale(5.55 4.35)" fill="#5f673c"/>
<use href="#lf" transform="translate(69.7 418.6) rotate(28) scale(6.50 5.63)" fill="#5a6338"/>
<use href="#lf" transform="translate(150.0 399.0) rotate(38) scale(4.96 4.28)" fill="#4d5331"/>
<use href="#lf" transform="translate(123.5 406.7) rotate(167) scale(4.82 4.82)" fill="#43492c"/>
<use href="#lf" transform="translate(63.3 415.7) rotate(205) scale(5.29 5.04)" fill="#5a6338"/>
<use href="#lf" transform="translate(108.0 425.0) rotate(39) scale(4.59 3.32)" fill="#565c36"/>
<use href="#lf" transform="translate(46.8 438.7) rotate(7) scale(5.25 5.22)" fill="#5a6338"/>
<use href="#lf" transform="translate(102.9 428.2) rotate(105) scale(5.83 5.26)" fill="#6b8040"/>
<use href="#lf" transform="translate(76.1 416.9) rotate(148) scale(4.30 3.36)" fill="#525934"/>
<use href="#lf" transform="translate(94.7 410.8) rotate(282) scale(6.43 5.03)" fill="#5f7338"/>
<use href="#lf" transform="translate(79.4 410.6) rotate(162) scale(6.28 5.50)" fill="#6b8040"/>
<use href="#lf" transform="translate(54.9 377.5) rotate(205) scale(4.47 4.33)" fill="#6a7745"/>
<use href="#lf" transform="translate(65.1 427.0) rotate(265) scale(6.40 5.57)" fill="#3e4228"/>
<use href="#lf" transform="translate(123.6 414.0) rotate(231) scale(4.94 3.70)" fill="#5a6338"/>
<use href="#lf" transform="translate(54.5 443.8) rotate(1) scale(4.99 4.49)" fill="#4d5331"/>
<use href="#lf" transform="translate(121.4 375.2) rotate(13) scale(6.55 6.42)" fill="#524834"/>
<use href="#lf" transform="translate(136.9 385.8) rotate(90) scale(4.22 3.60)" fill="#3e4228"/>
<use href="#lf" transform="translate(69.0 374.9) rotate(227) scale(4.37 3.41)" fill="#3b4027"/>
<use href="#lf" transform="translate(108.6 397.1) rotate(163) scale(4.25 2.96)" fill="#5f673c"/>
<use href="#lf" transform="translate(60.2 448.9) rotate(55) scale(5.17 4.26)" fill="#525934"/>
<use href="#lf" transform="translate(128.4 415.6) rotate(312) scale(4.36 3.21)" fill="#5f7338"/>
<use href="#lf" transform="translate(100.1 402.9) rotate(161) scale(4.98 3.63)" fill="#4d5331"/>
<use href="#lf" transform="translate(68.4 444.8) rotate(40) scale(4.38 4.17)" fill="#6a7745"/>
<use href="#lf" transform="translate(140.4 432.2) rotate(63) scale(4.78 3.40)" fill="#3e4228"/>
<use href="#lf" transform="translate(60.4 419.9) rotate(129) scale(6.48 4.97)" fill="#5f673c"/>
<use href="#lf" transform="translate(116.3 408.2) rotate(314) scale(4.44 4.19)" fill="#3e4228"/>
<use href="#lf" transform="translate(103.5 437.9) rotate(34) scale(5.04 4.26)" fill="#565c36"/>
<use href="#lf" transform="translate(86.4 446.8) rotate(187) scale(5.70 3.90)" fill="#5f673c"/>
<use href="#lf" transform="translate(104.3 449.5) rotate(37) scale(4.36 4.20)" fill="#43492c"/>
<use href="#lf" transform="translate(123.4 434.2) rotate(91) scale(5.55 4.00)" fill="#6a7745"/>
<use href="#lf" transform="translate(77.7 384.6) rotate(225) scale(4.61 3.92)" fill="#525934"/>
<use href="#lf" transform="translate(59.5 393.7) rotate(352) scale(4.46 3.21)" fill="#48452f"/>
<use href="#lf" transform="translate(147.4 419.8) rotate(116) scale(5.72 4.20)" fill="#525934"/>
<use href="#lf" transform="translate(126.8 439.5) rotate(62) scale(5.80 3.79)" fill="#494f2f"/>
<use href="#lf" transform="translate(52.6 442.1) rotate(335) scale(6.09 4.76)" fill="#3b4027"/>
<use href="#lf" transform="translate(127.0 384.3) rotate(133) scale(6.59 4.98)" fill="#5f673c"/>
<use href="#lf" transform="translate(116.9 429.4) rotate(159) scale(6.07 5.77)" fill="#43492c"/>
</g>
<path d="M82 449Q88.2 439.8 92 433" stroke="#c8c9ae" stroke-width=".9" fill="none" opacity=".65"/>
<path d="M86 450Q92.6 442.3 97 434" stroke="#c8c9ae" stroke-width=".9" fill="none" opacity=".65"/>
<path d="M91 449Q96.4 442.3 102 435" stroke="#c8c9ae" stroke-width=".9" fill="none" opacity=".65"/>
<path d="M97 448Q100.3 440.3 106 435" stroke="#c8c9ae" stroke-width=".9" fill="none" opacity=".65"/>
<path d="M102 448Q108.5 442.0 110 437" stroke="#c8c9ae" stroke-width=".9" fill="none" opacity=".65"/>
<path d="M94 451Q100.6 448.9 112 443" stroke="#c8c9ae" stroke-width=".9" fill="none" opacity=".65"/>
<path d="M99 452Q108.6 447.7 118 442" stroke="#c8c9ae" stroke-width=".9" fill="none" opacity=".65"/>
<path d="M88 446Q93.0 440.6 100 438" stroke="#c8c9ae" stroke-width=".9" fill="none" opacity=".65"/>
<path d="M106 450Q110.0 446.3 116 440" stroke="#c8c9ae" stroke-width=".9" fill="none" opacity=".65"/>
<g stroke="#17170f" stroke-opacity=".45" stroke-width=".14">
<use href="#lf" transform="translate(19.8 435.5) rotate(100) scale(5.40 5.13)" fill="#463a2e"/>
<use href="#lf" transform="translate(32.0 441.0) rotate(80) scale(5.00 4.75)" fill="#4a4030"/>
<use href="#lf" transform="translate(37.7 451.5) rotate(150) scale(4.20 3.99)" fill="#4c4232"/>
<use href="#lf" transform="translate(39.5 433.0) rotate(60) scale(5.50 5.22)" fill="#4d5230"/>
<use href="#lf" transform="translate(104.0 460.0) rotate(200) scale(5.20 4.94)" fill="#4e5a30"/>
<use href="#lf" transform="translate(70.5 460.5) rotate(170) scale(4.80 4.56)" fill="#4a5530"/>
<use href="#lf" transform="translate(61.0 455.0) rotate(120) scale(4.50 4.27)" fill="#46502e"/>
</g></g>
<ellipse cx="272" cy="447" rx="60" ry="14" fill="#8a8780" opacity=".28" filter="url(#b5)"/>
<g filter="url(#b06)">
<path d="M233.0 428.0C219.2 431.0 232.8 442.4 233.5 446.0C234.2 449.6 224.9 448.8 237.0 449.5C249.1 450.2 293.3 450.4 306.0 450.0C318.7 449.6 311.3 450.7 313.0 447.0C314.7 443.3 329.3 431.2 316.0 428.0C302.7 424.8 246.8 425.0 233.0 428.0Z" fill="#5c3324"/>
<path d="M233.0 428.0C219.2 431.0 232.8 442.4 233.5 446.0C234.2 449.6 224.9 448.8 237.0 449.5C249.1 450.2 293.3 450.4 306.0 450.0C318.7 449.6 311.3 450.7 313.0 447.0C314.7 443.3 329.3 431.2 316.0 428.0C302.7 424.8 246.8 425.0 233.0 428.0Z" fill="url(#tg)"/>
<circle cx="259.9" cy="431.3" r="1.0" fill="#3f2116" opacity=".6"/>
<circle cx="287.0" cy="429.6" r="1.3" fill="#3f2116" opacity=".6"/>
<circle cx="277.5" cy="436.0" r="1.6" fill="#3f2116" opacity=".6"/>
<circle cx="237.8" cy="439.2" r="1.5" fill="#734636" opacity=".6"/>
<circle cx="236.1" cy="437.5" r="1.2" fill="#734636" opacity=".6"/>
<circle cx="238.8" cy="430.0" r="0.9" fill="#734636" opacity=".6"/>
<circle cx="268.2" cy="446.2" r="1.2" fill="#734636" opacity=".6"/>
<circle cx="243.3" cy="432.9" r="1.7" fill="#734636" opacity=".6"/>
<circle cx="285.1" cy="448.8" r="1.7" fill="#734636" opacity=".6"/>
<circle cx="280.9" cy="436.7" r="1.5" fill="#734636" opacity=".6"/>
<circle cx="314.0" cy="429.0" r="1.5" fill="#734636" opacity=".6"/>
<circle cx="304.3" cy="434.4" r="1.8" fill="#3f2116" opacity=".6"/>
<circle cx="245.0" cy="430.6" r="0.9" fill="#3f2116" opacity=".6"/>
<circle cx="258.6" cy="446.0" r="1.0" fill="#3f2116" opacity=".6"/>
<circle cx="248.0" cy="440.8" r="0.8" fill="#3f2116" opacity=".6"/>
<circle cx="286.0" cy="436.2" r="1.0" fill="#734636" opacity=".6"/>
<circle cx="278.5" cy="429.4" r="0.8" fill="#734636" opacity=".6"/>
<circle cx="237.9" cy="432.5" r="1.3" fill="#3f2116" opacity=".6"/>
<circle cx="289.5" cy="437.4" r="1.4" fill="#3f2116" opacity=".6"/>
<circle cx="259.1" cy="440.9" r="1.5" fill="#3f2116" opacity=".6"/>
<circle cx="270.6" cy="434.6" r="1.8" fill="#3f2116" opacity=".6"/>
<circle cx="298.9" cy="443.4" r="1.5" fill="#3f2116" opacity=".6"/>
<circle cx="253.3" cy="440.6" r="1.3" fill="#3f2116" opacity=".6"/>
<circle cx="276.6" cy="447.3" r="1.6" fill="#734636" opacity=".6"/>
<circle cx="293.5" cy="434.3" r="1.2" fill="#734636" opacity=".6"/>
<circle cx="314.4" cy="430.6" r="0.9" fill="#3f2116" opacity=".6"/>
<circle cx="267.7" cy="444.7" r="1.2" fill="#3f2116" opacity=".6"/>
<circle cx="245.6" cy="438.8" r="0.9" fill="#3f2116" opacity=".6"/>
<circle cx="236.3" cy="442.7" r="1.2" fill="#3f2116" opacity=".6"/>
<circle cx="296.5" cy="440.6" r="1.1" fill="#3f2116" opacity=".6"/>
<circle cx="305.7" cy="434.9" r="0.9" fill="#3f2116" opacity=".6"/>
<circle cx="290.7" cy="441.1" r="1.0" fill="#3f2116" opacity=".6"/>
<circle cx="281.1" cy="438.0" r="1.7" fill="#3f2116" opacity=".6"/>
<circle cx="302.7" cy="448.8" r="0.8" fill="#3f2116" opacity=".6"/>
<circle cx="272.4" cy="442.6" r="1.4" fill="#3f2116" opacity=".6"/>
<circle cx="238.0" cy="443.4" r="1.4" fill="#734636" opacity=".6"/>
<circle cx="286.7" cy="449.8" r="1.4" fill="#734636" opacity=".6"/>
<circle cx="301.2" cy="434.3" r="0.9" fill="#734636" opacity=".6"/>
<circle cx="265.0" cy="442.7" r="1.8" fill="#734636" opacity=".6"/>
<circle cx="234.9" cy="438.2" r="1.3" fill="#734636" opacity=".6"/>
<path d="M215 383Q219.5 386.6 229 395" stroke="#8f9a60" stroke-width=".9" fill="none"/>
<path d="M225 374Q227.1 383.6 231 396" stroke="#8f9a60" stroke-width=".9" fill="none"/>
<path d="M337 390Q330.0 396.5 319 407" stroke="#8f9a60" stroke-width=".9" fill="none"/>
<path d="M331 386Q323.1 394.7 321 398" stroke="#8f9a60" stroke-width=".9" fill="none"/>
<path d="M226.0 400.0C224.3 402.2 222.3 406.8 222.0 410.0C221.7 413.2 222.7 416.5 224.0 419.0C225.3 421.5 228.5 422.8 230.0 425.0C231.5 427.2 232.3 429.5 233.0 432.0C233.7 434.5 232.8 438.2 234.0 440.0C235.2 441.8 236.5 442.3 240.0 443.0C243.5 443.7 250.0 443.7 255.0 444.0C260.0 444.3 265.0 444.8 270.0 445.0C275.0 445.2 280.0 445.0 285.0 445.0C290.0 445.0 296.2 444.5 300.0 445.0C303.8 445.5 305.7 447.7 308.0 448.0C310.3 448.3 312.5 448.5 314.0 447.0C315.5 445.5 315.8 441.5 317.0 439.0C318.2 436.5 321.0 434.3 321.0 432.0C321.0 429.7 318.2 427.0 317.0 425.0C315.8 423.0 313.5 422.0 314.0 420.0C314.5 418.0 319.7 416.0 320.0 413.0C320.3 410.0 316.5 405.8 316.0 402.0C315.5 398.2 316.5 393.8 317.0 390.0C317.5 386.2 318.3 381.8 319.0 379.0C319.7 376.2 321.8 374.8 321.0 373.0C320.2 371.2 316.5 368.5 314.0 368.0C311.5 367.5 308.2 370.5 306.0 370.0C303.8 369.5 303.0 366.8 301.0 365.0C299.0 363.2 296.3 359.8 294.0 359.5C291.7 359.2 288.8 361.2 287.0 363.0C285.2 364.8 284.7 369.2 283.0 370.0C281.3 370.8 279.0 369.0 277.0 368.0C275.0 367.0 273.3 365.3 271.0 364.0C268.7 362.7 265.7 361.1 263.0 360.0C260.3 358.9 257.5 357.3 255.0 357.5C252.5 357.7 250.0 359.8 248.0 361.0C246.0 362.2 244.7 363.5 243.0 365.0C241.3 366.5 239.0 367.8 238.0 370.0C237.0 372.2 236.5 375.3 237.0 378.0C237.5 380.7 240.8 383.3 241.0 386.0C241.2 388.7 239.5 392.2 238.0 394.0C236.5 395.8 234.0 396.0 232.0 397.0C230.0 398.0 227.7 397.8 226.0 400.0Z" fill="#2c2123" opacity=".9"/>
<g stroke="#17170f" stroke-opacity=".45" stroke-width=".14">
<use href="#lf" transform="translate(259.4 406.0) rotate(96) scale(5.01 3.81)" fill="#547636"/>
<use href="#lf" transform="translate(265.5 437.3) rotate(88) scale(4.94 3.88)" fill="#452e2d"/>
<use href="#lf" transform="translate(259.1 394.7) rotate(68) scale(6.40 6.38)" fill="#547636"/>
<use href="#lf" transform="translate(309.8 401.6) rotate(83) scale(5.52 4.03)" fill="#432b2d"/>
<use href="#lf" transform="translate(264.4 417.8) rotate(13) scale(5.42 5.16)" fill="#4a682f"/>
<use href="#lf" transform="translate(296.6 427.9) rotate(15) scale(6.41 4.59)" fill="#3c5229"/>
<use href="#lf" transform="translate(306.4 394.8) rotate(298) scale(5.72 5.60)" fill="#452e2d"/>
<use href="#lf" transform="translate(317.4 423.8) rotate(312) scale(5.22 4.60)" fill="#513535"/>
<use href="#lf" transform="translate(249.4 396.4) rotate(239) scale(6.10 5.57)" fill="#628040"/>
<use href="#lf" transform="translate(290.7 444.7) rotate(13) scale(5.17 3.84)" fill="#4b3031"/>
<use href="#lf" transform="translate(315.6 408.5) rotate(92) scale(4.85 4.46)" fill="#473133"/>
<use href="#lf" transform="translate(310.9 368.4) rotate(293) scale(6.41 5.12)" fill="#432b2d"/>
<use href="#lf" transform="translate(258.5 392.5) rotate(67) scale(5.89 4.18)" fill="#4a682f"/>
<use href="#lf" transform="translate(312.9 397.6) rotate(174) scale(5.49 4.01)" fill="#513535"/>
<use href="#lf" transform="translate(269.6 440.8) rotate(198) scale(5.27 4.53)" fill="#3e2729"/>
<use href="#lf" transform="translate(248.6 375.5) rotate(143) scale(5.84 4.80)" fill="#4b3031"/>
<use href="#lf" transform="translate(291.2 430.1) rotate(111) scale(5.02 4.64)" fill="#4b3031"/>
<use href="#lf" transform="translate(232.0 407.7) rotate(149) scale(6.34 6.09)" fill="#3a2829"/>
<use href="#lf" transform="translate(264.6 408.3) rotate(131) scale(6.59 5.02)" fill="#425a2b"/>
<use href="#lf" transform="translate(242.6 424.4) rotate(325) scale(4.41 3.24)" fill="#513535"/>
<use href="#lf" transform="translate(300.3 422.6) rotate(208) scale(4.60 3.44)" fill="#432b2d"/>
<use href="#lf" transform="translate(302.4 438.8) rotate(199) scale(4.43 4.18)" fill="#3e2729"/>
<use href="#lf" transform="translate(254.0 411.0) rotate(206) scale(5.27 4.49)" fill="#3e2729"/>
<use href="#lf" transform="translate(260.3 422.2) rotate(102) scale(4.72 3.46)" fill="#3a2829"/>
<use href="#lf" transform="translate(303.0 401.0) rotate(290) scale(5.48 4.16)" fill="#432b2d"/>
<use href="#lf" transform="translate(266.8 413.3) rotate(340) scale(4.68 3.72)" fill="#513535"/>
<use href="#lf" transform="translate(278.4 442.6) rotate(229) scale(5.74 5.57)" fill="#3a2829"/>
<use href="#lf" transform="translate(313.5 420.7) rotate(297) scale(5.76 5.14)" fill="#452e2d"/>
<use href="#lf" transform="translate(303.0 429.7) rotate(224) scale(6.28 5.96)" fill="#452e2d"/>
<use href="#lf" transform="translate(303.2 389.6) rotate(79) scale(4.80 4.71)" fill="#513535"/>
<use href="#lf" transform="translate(251.4 364.9) rotate(129) scale(4.74 3.67)" fill="#452e2d"/>
<use href="#lf" transform="translate(281.4 437.7) rotate(323) scale(5.99 5.79)" fill="#3a2829"/>
<use href="#lf" transform="translate(303.4 409.1) rotate(242) scale(6.25 5.95)" fill="#3e2729"/>
<use href="#lf" transform="translate(226.8 412.6) rotate(216) scale(4.66 4.45)" fill="#473133"/>
<use href="#lf" transform="translate(295.6 409.1) rotate(234) scale(6.11 5.35)" fill="#4b3031"/>
<use href="#lf" transform="translate(266.9 370.6) rotate(237) scale(5.34 4.54)" fill="#513535"/>
<use href="#lf" transform="translate(283.6 398.6) rotate(1) scale(4.79 3.69)" fill="#513535"/>
<use href="#lf" transform="translate(236.9 394.3) rotate(281) scale(6.08 5.78)" fill="#513535"/>
<use href="#lf" transform="translate(255.7 374.1) rotate(144) scale(6.18 4.57)" fill="#3a2829"/>
<use href="#lf" transform="translate(273.2 434.2) rotate(33) scale(5.35 4.55)" fill="#513535"/>
<use href="#lf" transform="translate(299.9 415.3) rotate(15) scale(5.85 5.46)" fill="#547636"/>
<use href="#lf" transform="translate(273.9 445.7) rotate(20) scale(5.53 5.35)" fill="#473133"/>
<use href="#lf" transform="translate(308.8 409.4) rotate(282) scale(5.84 5.59)" fill="#3a2829"/>
<use href="#lf" transform="translate(292.5 389.7) rotate(264) scale(6.59 4.83)" fill="#432b2d"/>
<use href="#lf" transform="translate(246.9 368.9) rotate(319) scale(4.69 4.63)" fill="#4b3031"/>
<use href="#lf" transform="translate(220.8 411.1) rotate(59) scale(6.42 5.88)" fill="#432b2d"/>
<use href="#lf" transform="translate(318.4 370.4) rotate(300) scale(4.89 4.53)" fill="#473133"/>
<use href="#lf" transform="translate(298.1 433.6) rotate(323) scale(4.75 3.53)" fill="#425a2b"/>
<use href="#lf" transform="translate(313.8 427.9) rotate(331) scale(5.50 4.83)" fill="#452e2d"/>
<use href="#lf" transform="translate(244.7 416.6) rotate(85) scale(5.75 4.34)" fill="#4a682f"/>
<use href="#lf" transform="translate(279.8 392.8) rotate(337) scale(4.75 3.57)" fill="#513535"/>
<use href="#lf" transform="translate(248.3 434.6) rotate(41) scale(6.13 4.38)" fill="#473133"/>
<use href="#lf" transform="translate(307.1 425.3) rotate(348) scale(6.29 5.50)" fill="#473133"/>
<use href="#lf" transform="translate(297.7 368.3) rotate(38) scale(6.34 5.64)" fill="#473133"/>
<use href="#lf" transform="translate(284.5 438.9) rotate(287) scale(5.27 4.28)" fill="#4b3031"/>
<use href="#lf" transform="translate(275.9 396.5) rotate(53) scale(5.21 4.34)" fill="#3c5229"/>
<use href="#lf" transform="translate(249.8 431.8) rotate(268) scale(4.79 3.78)" fill="#3a2829"/>
<use href="#lf" transform="translate(296.8 374.2) rotate(112) scale(5.54 4.85)" fill="#432b2d"/>
<use href="#lf" transform="translate(308.2 417.7) rotate(113) scale(5.86 5.42)" fill="#3a2829"/>
<use href="#lf" transform="translate(302.3 375.4) rotate(105) scale(4.89 4.06)" fill="#3e2729"/>
<use href="#lf" transform="translate(284.6 417.4) rotate(322) scale(5.53 4.89)" fill="#4a682f"/>
<use href="#lf" transform="translate(264.6 424.3) rotate(20) scale(4.50 3.29)" fill="#4b3031"/>
<use href="#lf" transform="translate(252.5 401.8) rotate(81) scale(5.19 3.84)" fill="#473133"/>
<use href="#lf" transform="translate(268.9 402.3) rotate(298) scale(5.21 5.11)" fill="#3c5229"/>
<use href="#lf" transform="translate(313.4 423.4) rotate(54) scale(4.94 3.55)" fill="#3a2829"/>
<use href="#lf" transform="translate(248.2 414.0) rotate(240) scale(4.72 4.67)" fill="#547636"/>
<use href="#lf" transform="translate(271.3 378.6) rotate(296) scale(4.52 3.97)" fill="#4b3031"/>
<use href="#lf" transform="translate(276.2 417.0) rotate(217) scale(5.67 5.51)" fill="#452e2d"/>
<use href="#lf" transform="translate(229.5 400.0) rotate(191) scale(3.88 2.93)" fill="#432b2d"/>
<use href="#lf" transform="translate(227.5 404.7) rotate(328) scale(4.09 2.88)" fill="#452e2d"/>
<use href="#lf" transform="translate(225.4 409.4) rotate(339) scale(4.79 3.95)" fill="#4b3031"/>
<use href="#lf" transform="translate(226.4 413.6) rotate(231) scale(4.73 4.22)" fill="#48303a"/>
<use href="#lf" transform="translate(227.3 417.8) rotate(63) scale(5.26 3.79)" fill="#473133"/>
<use href="#lf" transform="translate(230.2 420.6) rotate(358) scale(4.93 4.61)" fill="#553832"/>
<use href="#lf" transform="translate(233.1 423.3) rotate(2) scale(5.09 4.70)" fill="#432b2d"/>
<use href="#lf" transform="translate(234.4 426.6) rotate(267) scale(4.64 3.49)" fill="#594040"/>
<use href="#lf" transform="translate(235.8 429.9) rotate(94) scale(5.59 3.98)" fill="#48303a"/>
<use href="#lf" transform="translate(236.2 433.7) rotate(270) scale(4.40 4.33)" fill="#553832"/>
<use href="#lf" transform="translate(236.5 437.6) rotate(19) scale(4.27 3.70)" fill="#48303a"/>
<use href="#lf" transform="translate(239.4 438.9) rotate(284) scale(4.58 4.55)" fill="#332426"/>
<use href="#lf" transform="translate(242.2 440.3) rotate(334) scale(4.33 3.14)" fill="#513535"/>
<use href="#lf" transform="translate(249.4 440.6) rotate(61) scale(4.71 4.49)" fill="#513535"/>
<use href="#lf" transform="translate(256.5 440.8) rotate(57) scale(4.16 3.16)" fill="#3e2729"/>
<use href="#lf" transform="translate(263.5 441.1) rotate(216) scale(4.50 4.37)" fill="#432b2d"/>
<use href="#lf" transform="translate(270.4 441.5) rotate(249) scale(4.94 4.70)" fill="#48303a"/>
<use href="#lf" transform="translate(277.3 441.5) rotate(170) scale(4.77 4.33)" fill="#332426"/>
<use href="#lf" transform="translate(284.2 441.6) rotate(157) scale(5.34 4.12)" fill="#553832"/>
<use href="#lf" transform="translate(291.2 441.7) rotate(284) scale(5.39 4.78)" fill="#432b2d"/>
<use href="#lf" transform="translate(298.3 441.9) rotate(328) scale(3.94 2.80)" fill="#4b3031"/>
<use href="#lf" transform="translate(302.1 443.5) rotate(224) scale(4.00 3.21)" fill="#4b3031"/>
<use href="#lf" transform="translate(306.0 445.1) rotate(10) scale(4.06 3.01)" fill="#3a2829"/>
<use href="#lf" transform="translate(308.9 444.7) rotate(15) scale(4.96 4.57)" fill="#452e2d"/>
<use href="#lf" transform="translate(311.8 444.3) rotate(213) scale(3.92 2.98)" fill="#3e2729"/>
<use href="#lf" transform="translate(313.1 440.5) rotate(192) scale(5.52 3.97)" fill="#48303a"/>
<use href="#lf" transform="translate(314.4 436.6) rotate(329) scale(5.36 3.93)" fill="#432b2d"/>
<use href="#lf" transform="translate(316.3 433.3) rotate(40) scale(4.17 4.11)" fill="#3a2829"/>
<use href="#lf" transform="translate(318.1 430.0) rotate(271) scale(5.44 5.15)" fill="#452e2d"/>
<use href="#lf" transform="translate(316.1 426.6) rotate(103) scale(4.94 3.65)" fill="#452e2d"/>
<use href="#lf" transform="translate(314.0 423.2) rotate(233) scale(5.23 4.16)" fill="#473133"/>
<use href="#lf" transform="translate(312.4 420.8) rotate(8) scale(4.56 4.47)" fill="#473133"/>
<use href="#lf" transform="translate(310.9 418.4) rotate(274) scale(3.89 3.62)" fill="#3e2729"/>
<use href="#lf" transform="translate(313.7 415.2) rotate(171) scale(4.88 4.32)" fill="#473133"/>
<use href="#lf" transform="translate(316.6 412.0) rotate(149) scale(3.86 3.30)" fill="#432b2d"/>
<use href="#lf" transform="translate(314.5 406.9) rotate(169) scale(3.98 3.43)" fill="#3a2829"/>
<use href="#lf" transform="translate(312.5 401.9) rotate(310) scale(4.19 3.66)" fill="#452e2d"/>
<use href="#lf" transform="translate(313.0 396.4) rotate(157) scale(4.32 3.28)" fill="#332426"/>
<use href="#lf" transform="translate(313.6 390.8) rotate(352) scale(5.17 4.16)" fill="#3a2829"/>
<use href="#lf" transform="translate(314.7 385.7) rotate(250) scale(3.97 3.93)" fill="#4b3031"/>
<use href="#lf" transform="translate(315.9 380.5) rotate(345) scale(4.87 3.79)" fill="#332426"/>
<use href="#lf" transform="translate(316.9 377.7) rotate(102) scale(5.50 5.40)" fill="#513535"/>
<use href="#lf" transform="translate(318.0 374.8) rotate(60) scale(4.22 3.92)" fill="#48303a"/>
<use href="#lf" transform="translate(314.6 372.5) rotate(357) scale(4.68 4.38)" fill="#332426"/>
<use href="#lf" transform="translate(311.3 370.2) rotate(128) scale(4.93 4.82)" fill="#432b2d"/>
<use href="#lf" transform="translate(307.4 371.3) rotate(268) scale(5.41 5.22)" fill="#432b2d"/>
<use href="#lf" transform="translate(303.5 372.5) rotate(74) scale(3.85 3.19)" fill="#473133"/>
<use href="#lf" transform="translate(301.2 370.1) rotate(62) scale(4.78 3.68)" fill="#48303a"/>
<use href="#lf" transform="translate(298.9 367.8) rotate(191) scale(4.63 4.29)" fill="#553832"/>
<use href="#lf" transform="translate(295.7 365.3) rotate(125) scale(4.96 4.25)" fill="#3e2729"/>
<use href="#lf" transform="translate(292.5 362.7) rotate(162) scale(5.36 4.95)" fill="#332426"/>
<use href="#lf" transform="translate(289.2 364.5) rotate(158) scale(4.11 3.59)" fill="#473133"/>
<use href="#lf" transform="translate(285.9 366.3) rotate(166) scale(4.03 3.11)" fill="#553832"/>
<use href="#lf" transform="translate(284.0 369.9) rotate(109) scale(4.14 3.93)" fill="#553832"/>
<use href="#lf" transform="translate(282.1 373.4) rotate(260) scale(4.91 4.50)" fill="#513535"/>
<use href="#lf" transform="translate(279.5 372.5) rotate(126) scale(4.89 3.90)" fill="#513535"/>
<use href="#lf" transform="translate(276.8 371.5) rotate(351) scale(4.14 4.13)" fill="#553832"/>
<use href="#lf" transform="translate(274.1 369.5) rotate(237) scale(4.10 3.34)" fill="#513535"/>
<use href="#lf" transform="translate(271.4 367.5) rotate(286) scale(5.57 4.40)" fill="#553832"/>
<use href="#lf" transform="translate(267.7 365.4) rotate(39) scale(4.29 3.37)" fill="#452e2d"/>
<use href="#lf" transform="translate(264.0 363.4) rotate(167) scale(5.39 4.42)" fill="#3a2829"/>
<use href="#lf" transform="translate(260.3 362.0) rotate(250) scale(5.22 5.19)" fill="#332426"/>
<use href="#lf" transform="translate(256.5 360.7) rotate(8) scale(4.33 3.82)" fill="#473133"/>
<use href="#lf" transform="translate(253.2 362.3) rotate(267) scale(4.53 4.12)" fill="#432b2d"/>
<use href="#lf" transform="translate(250.0 363.9) rotate(233) scale(4.86 4.37)" fill="#513535"/>
<use href="#lf" transform="translate(247.7 365.7) rotate(316) scale(4.97 4.53)" fill="#48303a"/>
<use href="#lf" transform="translate(245.4 367.6) rotate(245) scale(5.33 3.93)" fill="#48303a"/>
<use href="#lf" transform="translate(243.0 369.9) rotate(94) scale(4.58 3.34)" fill="#553832"/>
<use href="#lf" transform="translate(240.7 372.2) rotate(282) scale(4.56 4.16)" fill="#553832"/>
<use href="#lf" transform="translate(240.4 376.0) rotate(306) scale(4.08 3.41)" fill="#594040"/>
<use href="#lf" transform="translate(240.0 379.8) rotate(147) scale(4.92 4.42)" fill="#48303a"/>
<use href="#lf" transform="translate(242.1 383.6) rotate(322) scale(5.37 5.01)" fill="#3e2729"/>
<use href="#lf" transform="translate(244.2 387.4) rotate(176) scale(4.50 3.20)" fill="#452e2d"/>
<use href="#lf" transform="translate(242.9 391.0) rotate(58) scale(4.78 4.09)" fill="#513535"/>
<use href="#lf" transform="translate(241.5 394.6) rotate(207) scale(3.98 3.03)" fill="#332426"/>
<use href="#lf" transform="translate(238.5 395.9) rotate(6) scale(4.66 3.99)" fill="#3e2729"/>
<use href="#lf" transform="translate(235.5 397.3) rotate(341) scale(4.54 4.53)" fill="#513535"/>
<use href="#lf" transform="translate(232.5 398.6) rotate(185) scale(4.13 3.80)" fill="#452e2d"/>
<use href="#lf" transform="translate(287.3 381.6) rotate(230) scale(5.67 4.23)" fill="#473133"/>
<use href="#lf" transform="translate(242.1 381.5) rotate(5) scale(5.16 5.01)" fill="#432b2d"/>
<use href="#lf" transform="translate(226.5 403.6) rotate(243) scale(5.71 4.24)" fill="#4e3234"/>
<use href="#lf" transform="translate(277.9 445.5) rotate(267) scale(4.74 4.69)" fill="#332426"/>
<use href="#lf" transform="translate(249.6 378.7) rotate(346) scale(6.59 4.77)" fill="#594040"/>
<use href="#lf" transform="translate(278.7 401.4) rotate(280) scale(4.51 3.24)" fill="#48303a"/>
<use href="#lf" transform="translate(306.9 381.9) rotate(259) scale(5.74 4.44)" fill="#4b3031"/>
<use href="#lf" transform="translate(246.5 439.3) rotate(295) scale(5.73 4.67)" fill="#432b2d"/>
<use href="#lf" transform="translate(292.3 402.1) rotate(197) scale(4.91 4.53)" fill="#4b3031"/>
<use href="#lf" transform="translate(315.3 374.2) rotate(282) scale(5.33 3.96)" fill="#513535"/>
<use href="#lf" transform="translate(297.4 440.9) rotate(91) scale(5.10 4.53)" fill="#432b2d"/>
<use href="#lf" transform="translate(319.2 413.7) rotate(290) scale(5.36 4.15)" fill="#473133"/>
<use href="#lf" transform="translate(242.6 431.4) rotate(115) scale(5.77 4.62)" fill="#594040"/>
<use href="#lf" transform="translate(264.3 364.4) rotate(237) scale(5.73 4.03)" fill="#3e2729"/>
<use href="#lf" transform="translate(284.1 412.1) rotate(139) scale(4.93 4.77)" fill="#628040"/>
<use href="#lf" transform="translate(258.8 439.7) rotate(51) scale(6.08 5.30)" fill="#3e2729"/>
<use href="#lf" transform="translate(263.6 428.5) rotate(4) scale(4.24 3.19)" fill="#48303a"/>
<use href="#lf" transform="translate(259.3 404.1) rotate(208) scale(5.66 5.22)" fill="#4b3031"/>
<use href="#lf" transform="translate(310.2 373.9) rotate(55) scale(5.03 4.66)" fill="#432b2d"/>
<use href="#lf" transform="translate(319.1 435.1) rotate(321) scale(4.60 4.57)" fill="#4e3234"/>
<use href="#lf" transform="translate(270.1 418.6) rotate(325) scale(4.42 4.17)" fill="#48303a"/>
<use href="#lf" transform="translate(258.7 363.0) rotate(249) scale(4.67 3.17)" fill="#332426"/>
<use href="#lf" transform="translate(287.1 442.0) rotate(242) scale(6.21 5.25)" fill="#452e2d"/>
<use href="#lf" transform="translate(243.0 384.5) rotate(84) scale(4.83 3.94)" fill="#4b3031"/>
<use href="#lf" transform="translate(290.9 380.7) rotate(174) scale(5.54 4.96)" fill="#4b3031"/>
<use href="#lf" transform="translate(264.6 374.5) rotate(59) scale(4.79 4.56)" fill="#4e3234"/>
<use href="#lf" transform="translate(285.2 425.8) rotate(303) scale(4.22 3.47)" fill="#4e3234"/>
<use href="#lf" transform="translate(310.8 390.0) rotate(168) scale(4.91 3.91)" fill="#432b2d"/>
<use href="#lf" transform="translate(280.7 412.1) rotate(27) scale(6.51 5.70)" fill="#48303a"/>
<use href="#lf" transform="translate(269.2 374.3) rotate(17) scale(4.25 4.15)" fill="#553832"/>
<use href="#lf" transform="translate(316.3 442.6) rotate(353) scale(4.99 4.09)" fill="#332426"/>
<use href="#lf" transform="translate(272.1 404.1) rotate(52) scale(6.02 5.23)" fill="#425a2b"/>
<use href="#lf" transform="translate(236.8 422.7) rotate(310) scale(5.01 3.86)" fill="#3e2729"/>
<use href="#lf" transform="translate(262.5 369.3) rotate(199) scale(6.07 4.55)" fill="#513535"/>
<use href="#lf" transform="translate(301.0 383.7) rotate(91) scale(5.02 4.72)" fill="#3a2829"/>
<use href="#lf" transform="translate(250.3 406.8) rotate(298) scale(4.90 4.88)" fill="#628040"/>
<use href="#lf" transform="translate(277.7 380.5) rotate(124) scale(6.30 5.53)" fill="#513535"/>
<use href="#lf" transform="translate(224.3 406.4) rotate(119) scale(6.10 5.49)" fill="#3e2729"/>
<use href="#lf" transform="translate(317.5 379.7) rotate(350) scale(4.51 4.17)" fill="#452e2d"/>
<use href="#lf" transform="translate(278.0 423.6) rotate(260) scale(4.30 3.39)" fill="#3a2829"/>
<use href="#lf" transform="translate(276.6 375.5) rotate(17) scale(4.46 3.85)" fill="#594040"/>
<use href="#lf" transform="translate(315.9 399.9) rotate(284) scale(5.78 4.99)" fill="#332426"/>
<use href="#lf" transform="translate(245.4 396.7) rotate(226) scale(5.68 5.43)" fill="#4e3234"/>
<use href="#lf" transform="translate(307.9 442.9) rotate(14) scale(4.40 3.56)" fill="#48303a"/>
<use href="#lf" transform="translate(287.4 384.3) rotate(36) scale(6.03 5.75)" fill="#4b3031"/>
<use href="#lf" transform="translate(310.3 381.8) rotate(36) scale(5.21 3.41)" fill="#48303a"/>
<use href="#lf" transform="translate(241.5 413.8) rotate(50) scale(6.29 5.99)" fill="#547636"/>
<use href="#lf" transform="translate(254.3 381.8) rotate(12) scale(4.64 3.72)" fill="#3a2829"/>
<use href="#lf" transform="translate(252.3 366.5) rotate(336) scale(5.74 4.73)" fill="#3a2829"/>
<use href="#lf" transform="translate(252.5 358.7) rotate(297) scale(5.45 4.64)" fill="#432b2d"/>
<use href="#lf" transform="translate(303.4 420.8) rotate(161) scale(6.40 5.49)" fill="#425a2b"/>
<use href="#lf" transform="translate(244.1 372.8) rotate(237) scale(6.58 5.37)" fill="#4b3031"/>
<use href="#lf" transform="translate(231.0 429.6) rotate(37) scale(5.19 4.23)" fill="#48303a"/>
<use href="#lf" transform="translate(248.8 417.7) rotate(226) scale(6.35 5.65)" fill="#3c5229"/>
<use href="#lf" transform="translate(230.0 417.6) rotate(348) scale(4.49 3.26)" fill="#452e2d"/>
<use href="#lf" transform="translate(243.3 434.4) rotate(170) scale(4.49 4.05)" fill="#473133"/>
<use href="#lf" transform="translate(239.1 417.9) rotate(264) scale(4.78 3.72)" fill="#3c5229"/>
<use href="#lf" transform="translate(236.0 440.0) rotate(250) scale(5.99 5.43)" fill="#4b3031"/>
<use href="#lf" transform="translate(240.2 400.9) rotate(226) scale(4.40 3.89)" fill="#594040"/>
<use href="#lf" transform="translate(256.1 428.8) rotate(329) scale(6.34 5.71)" fill="#3a2829"/>
<use href="#lf" transform="translate(254.3 435.0) rotate(5) scale(4.23 3.76)" fill="#48303a"/>
<use href="#lf" transform="translate(237.0 427.9) rotate(140) scale(5.68 5.15)" fill="#473133"/>
<use href="#lf" transform="translate(291.3 420.7) rotate(310) scale(4.60 3.50)" fill="#3a2829"/>
<use href="#lf" transform="translate(257.4 385.1) rotate(262) scale(6.48 4.54)" fill="#4a682f"/>
<use href="#lf" transform="translate(236.5 402.8) rotate(131) scale(6.11 5.69)" fill="#48303a"/>
<use href="#lf" transform="translate(299.5 378.2) rotate(280) scale(5.34 5.24)" fill="#594040"/>
<use href="#lf" transform="translate(304.0 434.4) rotate(204) scale(6.08 4.55)" fill="#473133"/>
<use href="#lf" transform="translate(288.1 373.2) rotate(234) scale(5.69 4.36)" fill="#4e3234"/>
<use href="#lf" transform="translate(312.1 444.4) rotate(352) scale(5.65 4.86)" fill="#4b3031"/>
<use href="#lf" transform="translate(233.0 414.7) rotate(154) scale(4.94 3.86)" fill="#513535"/>
<use href="#lf" transform="translate(252.8 426.1) rotate(217) scale(5.84 4.38)" fill="#594040"/>
<use href="#lf" transform="translate(290.2 425.4) rotate(95) scale(4.20 4.09)" fill="#4e3234"/>
<use href="#lf" transform="translate(291.2 369.0) rotate(282) scale(6.03 5.68)" fill="#473133"/>
<use href="#lf" transform="translate(249.3 425.2) rotate(312) scale(6.15 6.10)" fill="#473133"/>
<use href="#lf" transform="translate(273.0 423.4) rotate(197) scale(6.11 4.16)" fill="#332426"/>
<use href="#lf" transform="translate(261.9 378.1) rotate(287) scale(5.53 5.12)" fill="#513535"/>
<use href="#lf" transform="translate(287.8 364.4) rotate(354) scale(5.93 5.12)" fill="#473133"/>
<use href="#lf" transform="translate(293.5 386.6) rotate(168) scale(5.83 5.68)" fill="#513535"/>
<use href="#lf" transform="translate(272.9 370.3) rotate(3) scale(5.61 4.55)" fill="#432b2d"/>
<use href="#lf" transform="translate(239.1 408.3) rotate(290) scale(4.41 3.48)" fill="#513535"/>
<use href="#lf" transform="translate(265.1 379.5) rotate(93) scale(5.45 4.16)" fill="#332426"/>
<use href="#lf" transform="translate(262.6 439.9) rotate(73) scale(5.41 3.88)" fill="#513535"/>
<use href="#lf" transform="translate(278.2 408.2) rotate(252) scale(4.63 3.59)" fill="#628040"/>
<use href="#lf" transform="translate(293.4 411.9) rotate(309) scale(6.07 4.74)" fill="#425a2b"/>
<use href="#lf" transform="translate(316.2 384.3) rotate(228) scale(4.45 3.14)" fill="#452e2d"/>
<use href="#lf" transform="translate(251.8 383.2) rotate(124) scale(5.63 3.85)" fill="#3a2829"/>
<use href="#lf" transform="translate(269.4 431.9) rotate(313) scale(4.69 3.85)" fill="#4e3234"/>
<use href="#lf" transform="translate(281.0 374.5) rotate(94) scale(5.56 4.44)" fill="#473133"/>
<use href="#lf" transform="translate(270.0 398.0) rotate(276) scale(6.47 4.78)" fill="#4b3031"/>
<use href="#lf" transform="translate(297.1 389.4) rotate(72) scale(4.29 3.36)" fill="#4b3031"/>
<use href="#lf" transform="translate(308.1 387.2) rotate(13) scale(4.27 4.07)" fill="#3e2729"/>
<use href="#lf" transform="translate(261.7 414.3) rotate(341) scale(5.30 5.05)" fill="#452e2d"/>
<use href="#lf" transform="translate(245.7 392.9) rotate(332) scale(5.74 4.24)" fill="#452e2d"/>
<use href="#lf" transform="translate(250.8 441.6) rotate(231) scale(5.55 4.60)" fill="#48303a"/>
<use href="#lf" transform="translate(296.5 397.1) rotate(306) scale(4.64 4.58)" fill="#3e2729"/>
<use href="#lf" transform="translate(274.4 387.5) rotate(80) scale(6.58 6.44)" fill="#547636"/>
<use href="#lf" transform="translate(258.9 433.9) rotate(199) scale(4.34 4.09)" fill="#3a2829"/>
<use href="#lf" transform="translate(284.1 387.5) rotate(283) scale(4.31 3.92)" fill="#553832"/>
<use href="#lf" transform="translate(303.5 370.5) rotate(174) scale(6.03 4.22)" fill="#452e2d"/>
<use href="#lf" transform="translate(225.8 416.9) rotate(338) scale(6.01 5.48)" fill="#48303a"/>
<use href="#lf" transform="translate(265.0 396.2) rotate(159) scale(5.62 4.29)" fill="#594040"/>
<use href="#lf" transform="translate(260.5 358.8) rotate(45) scale(4.82 3.77)" fill="#594040"/>
<use href="#lf" transform="translate(270.6 385.4) rotate(291) scale(5.26 4.28)" fill="#3a2829"/>
<use href="#lf" transform="translate(245.4 409.3) rotate(288) scale(6.39 4.33)" fill="#4a682f"/>
<use href="#lf" transform="translate(283.8 401.5) rotate(134) scale(5.68 5.60)" fill="#594040"/>
<use href="#lf" transform="translate(311.9 437.2) rotate(139) scale(6.42 5.59)" fill="#3a2829"/>
<use href="#lf" transform="translate(246.7 401.9) rotate(122) scale(5.29 3.65)" fill="#594040"/>
<use href="#lf" transform="translate(243.4 369.3) rotate(120) scale(5.08 3.40)" fill="#553832"/>
<use href="#lf" transform="translate(305.2 412.7) rotate(199) scale(5.91 4.75)" fill="#4b3031"/>
<use href="#lf" transform="translate(291.0 433.6) rotate(151) scale(4.56 3.40)" fill="#3c5229"/>
<use href="#lf" transform="translate(297.5 402.1) rotate(120) scale(6.21 4.61)" fill="#4b3031"/>
<use href="#lf" transform="translate(287.6 407.7) rotate(164) scale(4.46 4.43)" fill="#4a682f"/>
<use href="#lf" transform="translate(309.5 430.5) rotate(322) scale(4.34 4.22)" fill="#48303a"/>
<use href="#lf" transform="translate(242.0 390.6) rotate(301) scale(5.54 5.49)" fill="#4a682f"/>
<use href="#lf" transform="translate(285.0 389.2) rotate(94) scale(5.24 5.10)" fill="#513535"/>
<use href="#lf" transform="translate(238.1 372.0) rotate(104) scale(4.43 2.97)" fill="#4b3031"/>
<use href="#lf" transform="translate(283.8 409.0) rotate(106) scale(5.94 4.78)" fill="#3a2829"/>
<use href="#lf" transform="translate(304.7 445.3) rotate(184) scale(5.42 3.53)" fill="#594040"/>
<use href="#lf" transform="translate(233.9 436.5) rotate(190) scale(6.20 4.81)" fill="#4b3031"/>
<use href="#lf" transform="translate(311.5 414.0) rotate(147) scale(4.30 3.65)" fill="#473133"/>
<use href="#lf" transform="translate(261.4 384.6) rotate(65) scale(4.53 3.22)" fill="#553832"/>
<use href="#lf" transform="translate(268.1 363.8) rotate(298) scale(5.64 5.11)" fill="#4e3234"/>
<use href="#lf" transform="translate(284.9 367.7) rotate(63) scale(6.03 5.21)" fill="#4b3031"/>
<use href="#lf" transform="translate(288.5 398.0) rotate(292) scale(5.90 3.85)" fill="#513535"/>
<use href="#lf" transform="translate(283.4 431.7) rotate(187) scale(5.86 4.87)" fill="#3a2829"/>
<use href="#lf" transform="translate(285.8 433.8) rotate(101) scale(5.03 3.43)" fill="#594040"/>
<use href="#lf" transform="translate(268.0 409.1) rotate(275) scale(5.18 3.82)" fill="#547636"/>
<use href="#lf" transform="translate(294.8 364.4) rotate(355) scale(5.55 3.93)" fill="#3a2829"/>
<use href="#lf" transform="translate(273.0 390.2) rotate(214) scale(5.09 4.97)" fill="#628040"/>
<use href="#lf" transform="translate(293.4 418.6) rotate(26) scale(6.52 6.11)" fill="#513535"/>
<use href="#lf" transform="translate(254.6 392.3) rotate(116) scale(6.28 5.35)" fill="#432b2d"/>
<use href="#lf" transform="translate(258.0 419.6) rotate(105) scale(6.36 5.12)" fill="#425a2b"/>
<use href="#lf" transform="translate(273.9 411.2) rotate(290) scale(4.26 4.21)" fill="#4a682f"/>
<use href="#lf" transform="translate(264.9 392.5) rotate(66) scale(4.74 4.00)" fill="#547636"/>
<use href="#lf" transform="translate(278.1 431.3) rotate(7) scale(6.49 4.66)" fill="#553832"/>
<use href="#lf" transform="translate(301.6 395.8) rotate(216) scale(4.24 3.45)" fill="#4e3234"/>
</g>
<path d="M240 441Q241.4 435.3 246 430" stroke="#c8c9ae" stroke-width=".9" fill="none" opacity=".65"/>
<path d="M268 442Q269.1 435.4 272 432" stroke="#c8c9ae" stroke-width=".9" fill="none" opacity=".65"/>
<path d="M290 441Q289.1 435.6 292 432" stroke="#c8c9ae" stroke-width=".9" fill="none" opacity=".65"/>
<path d="M252 440Q253.8 434.3 256 428" stroke="#c8c9ae" stroke-width=".9" fill="none" opacity=".65"/>
<g stroke="#17170f" stroke-opacity=".45" stroke-width=".14">
<use href="#lf" transform="translate(209.6 381.5) rotate(-72) scale(6.60 6.27)" fill="#553834"/>
<use href="#lf" transform="translate(203.5 368.5) rotate(20) scale(3.20 3.04)" fill="#4a3638"/>
<use href="#lf" transform="translate(199.8 380.0) rotate(100) scale(2.80 2.66)" fill="#50383a"/>
<use href="#lf" transform="translate(342.0 386.0) rotate(45) scale(6.20 5.89)" fill="#4a3236"/>
<use href="#lf" transform="translate(334.0 383.5) rotate(-20) scale(3.80 3.61)" fill="#4c4434"/>
<use href="#lf" transform="translate(340.0 396.5) rotate(60) scale(3.20 3.04)" fill="#4f3a3a"/>
<use href="#lf" transform="translate(320.5 431.5) rotate(-60) scale(5.00 4.75)" fill="#4a2c30"/>
<use href="#lf" transform="translate(312.0 447.5) rotate(180) scale(4.00 3.80)" fill="#45282c"/>
<use href="#lf" transform="translate(227.0 368.5) rotate(20) scale(6.20 5.89)" fill="#4e3230"/>
<use href="#lf" transform="translate(294.3 366.3) rotate(10) scale(7.80 7.41)" fill="#4c3030"/>
<use href="#lf" transform="translate(314.0 374.0) rotate(-30) scale(7.40 7.03)" fill="#4e3232"/>
<use href="#lf" transform="translate(255.0 363.0) rotate(190) scale(7.50 7.12)" fill="#4a2e30"/>
<use href="#lf" transform="translate(243.0 371.5) rotate(-20) scale(7.00 6.65)" fill="#50343a"/>
</g></g>
<ellipse cx="450" cy="452" rx="70" ry="16" fill="#8a8780" opacity=".28" filter="url(#b5)"/>
<g filter="url(#b06)">
<path d="M386.5 400.0C379.2 408.5 385.9 437.5 386.5 446.0C387.1 454.5 381.6 450.2 390.0 451.0C398.4 451.8 423.7 450.8 437.0 450.5C450.3 450.2 463.5 450.1 470.0 449.0C476.5 447.9 474.7 448.8 476.0 444.0C477.3 439.2 479.0 426.5 478.0 420.0C477.0 413.5 478.0 409.2 470.0 405.0C462.0 400.8 443.9 395.8 430.0 395.0C416.1 394.2 393.8 391.5 386.5 400.0Z" fill="#5e3727"/>
<path d="M386.5 400.0C379.2 408.5 385.9 437.5 386.5 446.0C387.1 454.5 381.6 450.2 390.0 451.0C398.4 451.8 423.7 450.8 437.0 450.5C450.3 450.2 463.5 450.1 470.0 449.0C476.5 447.9 474.7 448.8 476.0 444.0C477.3 439.2 479.0 426.5 478.0 420.0C477.0 413.5 478.0 409.2 470.0 405.0C462.0 400.8 443.9 395.8 430.0 395.0C416.1 394.2 393.8 391.5 386.5 400.0Z" fill="url(#tg)"/>
<circle cx="427.9" cy="426.3" r="0.9" fill="#40241a" opacity=".6"/>
<circle cx="471.1" cy="421.1" r="1.0" fill="#74493a" opacity=".6"/>
<circle cx="433.0" cy="427.9" r="0.8" fill="#40241a" opacity=".6"/>
<circle cx="403.4" cy="423.7" r="1.1" fill="#74493a" opacity=".6"/>
<circle cx="444.1" cy="439.4" r="1.2" fill="#40241a" opacity=".6"/>
<circle cx="395.1" cy="412.0" r="0.9" fill="#40241a" opacity=".6"/>
<circle cx="394.8" cy="440.3" r="1.4" fill="#40241a" opacity=".6"/>
<circle cx="446.3" cy="429.5" r="1.4" fill="#74493a" opacity=".6"/>
<circle cx="434.8" cy="398.3" r="1.4" fill="#40241a" opacity=".6"/>
<circle cx="403.9" cy="408.5" r="1.8" fill="#74493a" opacity=".6"/>
<circle cx="389.3" cy="421.0" r="1.6" fill="#40241a" opacity=".6"/>
<circle cx="426.8" cy="442.2" r="1.7" fill="#40241a" opacity=".6"/>
<circle cx="434.0" cy="430.9" r="1.4" fill="#74493a" opacity=".6"/>
<circle cx="432.2" cy="432.1" r="1.7" fill="#40241a" opacity=".6"/>
<circle cx="428.3" cy="410.6" r="1.0" fill="#40241a" opacity=".6"/>
<circle cx="463.4" cy="434.6" r="1.0" fill="#40241a" opacity=".6"/>
<circle cx="415.3" cy="407.9" r="1.7" fill="#40241a" opacity=".6"/>
<circle cx="412.9" cy="398.9" r="1.5" fill="#74493a" opacity=".6"/>
<circle cx="456.6" cy="417.4" r="1.7" fill="#40241a" opacity=".6"/>
<circle cx="464.0" cy="416.6" r="0.9" fill="#40241a" opacity=".6"/>
<circle cx="474.2" cy="442.4" r="0.9" fill="#40241a" opacity=".6"/>
<circle cx="386.5" cy="406.7" r="1.3" fill="#74493a" opacity=".6"/>
<circle cx="469.8" cy="421.3" r="1.0" fill="#40241a" opacity=".6"/>
<circle cx="476.2" cy="417.3" r="1.2" fill="#74493a" opacity=".6"/>
<circle cx="393.2" cy="430.2" r="1.6" fill="#40241a" opacity=".6"/>
<circle cx="457.7" cy="410.1" r="1.3" fill="#40241a" opacity=".6"/>
<circle cx="394.5" cy="413.6" r="1.0" fill="#40241a" opacity=".6"/>
<circle cx="474.7" cy="437.5" r="1.8" fill="#40241a" opacity=".6"/>
<circle cx="397.3" cy="408.8" r="1.0" fill="#40241a" opacity=".6"/>
<circle cx="395.7" cy="398.4" r="1.5" fill="#40241a" opacity=".6"/>
<circle cx="459.4" cy="404.9" r="1.4" fill="#74493a" opacity=".6"/>
<circle cx="437.7" cy="420.1" r="1.0" fill="#40241a" opacity=".6"/>
<circle cx="403.9" cy="436.0" r="1.5" fill="#40241a" opacity=".6"/>
<circle cx="398.5" cy="431.0" r="1.1" fill="#74493a" opacity=".6"/>
<circle cx="397.2" cy="418.6" r="1.0" fill="#40241a" opacity=".6"/>
<circle cx="406.0" cy="410.1" r="1.0" fill="#74493a" opacity=".6"/>
<circle cx="475.3" cy="440.0" r="1.3" fill="#40241a" opacity=".6"/>
<circle cx="414.3" cy="444.6" r="0.9" fill="#40241a" opacity=".6"/>
<circle cx="405.8" cy="417.1" r="1.7" fill="#74493a" opacity=".6"/>
<circle cx="464.7" cy="430.9" r="1.5" fill="#40241a" opacity=".6"/>
<path d="M503.6 400.5Q496.4 405.9 489 406" stroke="#8f9a60" stroke-width=".9" fill="none"/>
<path d="M498 386Q494.0 390.5 489 390" stroke="#8f9a60" stroke-width=".9" fill="none"/>
<path d="M446 458Q448.8 451.1 452 446" stroke="#8f9a60" stroke-width=".9" fill="none"/>
<path d="M510 404Q503.9 405.2 500 412" stroke="#8f9a60" stroke-width=".9" fill="none"/>
<path d="M390.0 386.0C389.7 383.2 391.0 379.8 392.0 377.0C393.0 374.2 394.3 371.0 396.0 369.0C397.7 367.0 400.0 365.9 402.0 365.0C404.0 364.1 406.0 363.3 408.0 363.5C410.0 363.7 411.8 365.6 414.0 366.0C416.2 366.4 418.7 366.0 421.0 366.0C423.3 366.0 425.7 365.0 428.0 366.0C430.3 367.0 432.7 370.7 435.0 372.0C437.3 373.3 439.7 373.8 442.0 374.0C444.3 374.2 446.7 373.0 449.0 373.0C451.3 373.0 453.8 374.4 456.0 374.0C458.2 373.6 460.0 371.5 462.0 370.5C464.0 369.5 465.8 368.8 468.0 368.0C470.2 367.2 472.7 365.5 475.0 365.5C477.3 365.5 479.8 367.1 482.0 368.0C484.2 368.9 486.5 369.3 488.0 371.0C489.5 372.7 491.2 375.5 491.0 378.0C490.8 380.5 487.9 383.3 487.0 386.0C486.1 388.7 485.5 391.2 485.5 394.0C485.5 396.8 487.2 400.3 487.0 403.0C486.8 405.7 485.0 407.8 484.0 410.0C483.0 412.2 482.0 413.7 481.0 416.0C480.0 418.3 478.8 421.3 478.0 424.0C477.2 426.7 476.3 429.3 476.0 432.0C475.7 434.7 475.7 437.3 476.0 440.0C476.3 442.7 478.3 446.0 478.0 448.0C477.7 450.0 475.5 452.3 474.0 452.0C472.5 451.7 471.0 447.3 469.0 446.0C467.0 444.7 464.3 444.0 462.0 444.0C459.7 444.0 457.2 444.7 455.0 446.0C452.8 447.3 451.0 451.3 449.0 452.0C447.0 452.7 444.7 451.3 443.0 450.0C441.3 448.7 440.5 445.7 439.0 444.0C437.5 442.3 436.2 441.2 434.0 440.0C431.8 438.8 429.0 438.0 426.0 437.0C423.0 436.0 419.0 434.0 416.0 434.0C413.0 434.0 410.7 436.7 408.0 437.0C405.3 437.3 402.7 436.7 400.0 436.0C397.3 435.3 393.8 435.0 392.0 433.0C390.2 431.0 388.8 427.8 389.0 424.0C389.2 420.2 392.7 414.0 393.0 410.0C393.3 406.0 390.8 402.7 391.0 400.0C391.2 397.3 394.2 396.3 394.0 394.0C393.8 391.7 390.3 388.8 390.0 386.0Z" fill="#2e2228" opacity=".9"/>
<g stroke="#17170f" stroke-opacity=".45" stroke-width=".14">
<use href="#lf" transform="translate(407.2 432.2) rotate(89) scale(5.39 4.75)" fill="#48323a"/>
<use href="#lf" transform="translate(441.3 379.0) rotate(56) scale(4.75 3.53)" fill="#4e3540"/>
<use href="#lf" transform="translate(394.8 397.1) rotate(292) scale(6.40 5.70)" fill="#45303a"/>
<use href="#lf" transform="translate(458.2 380.2) rotate(96) scale(6.58 4.71)" fill="#3f2936"/>
<use href="#lf" transform="translate(399.4 393.2) rotate(64) scale(5.66 5.35)" fill="#45303a"/>
<use href="#lf" transform="translate(456.8 425.0) rotate(296) scale(6.26 5.54)" fill="#5e763c"/>
<use href="#lf" transform="translate(434.9 412.3) rotate(320) scale(5.56 5.49)" fill="#3b2b32"/>
<use href="#lf" transform="translate(422.5 370.3) rotate(309) scale(5.69 4.02)" fill="#4e3540"/>
<use href="#lf" transform="translate(471.1 397.8) rotate(70) scale(4.81 4.56)" fill="#55362f"/>
<use href="#lf" transform="translate(398.9 423.0) rotate(196) scale(4.86 4.78)" fill="#45303a"/>
<use href="#lf" transform="translate(395.6 386.5) rotate(114) scale(6.52 4.71)" fill="#48323a"/>
<use href="#lf" transform="translate(469.6 401.8) rotate(168) scale(5.07 3.66)" fill="#4e3540"/>
<use href="#lf" transform="translate(418.9 431.5) rotate(240) scale(4.71 3.95)" fill="#584456"/>
<use href="#lf" transform="translate(448.2 434.9) rotate(299) scale(6.53 5.44)" fill="#584456"/>
<use href="#lf" transform="translate(429.3 384.1) rotate(256) scale(6.30 4.86)" fill="#48323a"/>
<use href="#lf" transform="translate(448.3 391.4) rotate(165) scale(5.64 5.47)" fill="#536636"/>
<use href="#lf" transform="translate(455.2 409.5) rotate(226) scale(4.73 3.74)" fill="#584456"/>
<use href="#lf" transform="translate(420.4 418.9) rotate(141) scale(5.14 3.89)" fill="#4e3540"/>
<use href="#lf" transform="translate(439.6 409.0) rotate(39) scale(5.23 4.54)" fill="#5e763c"/>
<use href="#lf" transform="translate(410.1 417.5) rotate(119) scale(5.99 4.38)" fill="#3b2b32"/>
<use href="#lf" transform="translate(474.0 402.9) rotate(47) scale(5.77 4.35)" fill="#45303a"/>
<use href="#lf" transform="translate(416.8 384.0) rotate(301) scale(5.29 4.82)" fill="#3f2936"/>
<use href="#lf" transform="translate(429.5 381.2) rotate(12) scale(4.62 3.84)" fill="#3b2b32"/>
<use href="#lf" transform="translate(463.9 412.8) rotate(123) scale(6.10 4.52)" fill="#3f2936"/>
<use href="#lf" transform="translate(463.7 409.2) rotate(53) scale(4.85 3.88)" fill="#48323a"/>
<use href="#lf" transform="translate(480.7 394.8) rotate(6) scale(5.31 4.69)" fill="#48323a"/>
<use href="#lf" transform="translate(438.1 380.4) rotate(284) scale(5.10 4.58)" fill="#45303a"/>
<use href="#lf" transform="translate(483.6 401.1) rotate(7) scale(5.74 4.34)" fill="#4e3540"/>
<use href="#lf" transform="translate(419.5 398.8) rotate(159) scale(5.07 4.13)" fill="#3f2936"/>
<use href="#lf" transform="translate(416.0 372.9) rotate(284) scale(5.52 4.03)" fill="#55362f"/>
<use href="#lf" transform="translate(401.8 387.2) rotate(91) scale(5.97 5.80)" fill="#3f2936"/>
<use href="#lf" transform="translate(426.0 417.9) rotate(127) scale(5.61 4.89)" fill="#45303a"/>
<use href="#lf" transform="translate(430.0 414.2) rotate(336) scale(4.84 4.60)" fill="#584456"/>
<use href="#lf" transform="translate(397.5 402.5) rotate(340) scale(4.83 4.34)" fill="#584456"/>
<use href="#lf" transform="translate(488.0 378.8) rotate(49) scale(6.11 5.33)" fill="#48323a"/>
<use href="#lf" transform="translate(474.9 426.9) rotate(119) scale(5.93 4.80)" fill="#55362f"/>
<use href="#lf" transform="translate(472.9 374.9) rotate(45) scale(5.42 4.01)" fill="#584456"/>
<use href="#lf" transform="translate(463.4 393.4) rotate(196) scale(6.39 6.23)" fill="#3f2936"/>
<use href="#lf" transform="translate(439.3 417.4) rotate(268) scale(4.77 4.20)" fill="#4e3540"/>
<use href="#lf" transform="translate(468.5 426.7) rotate(297) scale(4.67 4.23)" fill="#4e3540"/>
<use href="#lf" transform="translate(425.9 391.7) rotate(273) scale(5.20 4.94)" fill="#4e3540"/>
<use href="#lf" transform="translate(463.4 426.8) rotate(197) scale(4.81 4.02)" fill="#3b2b32"/>
<use href="#lf" transform="translate(473.3 428.3) rotate(282) scale(5.29 3.92)" fill="#584456"/>
<use href="#lf" transform="translate(457.8 443.1) rotate(305) scale(6.06 5.36)" fill="#48323a"/>
<use href="#lf" transform="translate(410.5 367.2) rotate(275) scale(5.81 4.41)" fill="#45303a"/>
<use href="#lf" transform="translate(437.5 402.6) rotate(51) scale(5.43 4.46)" fill="#74844e"/>
<use href="#lf" transform="translate(412.9 395.1) rotate(47) scale(5.14 4.47)" fill="#45303a"/>
<use href="#lf" transform="translate(405.0 402.8) rotate(231) scale(5.13 4.70)" fill="#3b2b32"/>
<use href="#lf" transform="translate(470.6 381.1) rotate(145) scale(6.13 5.40)" fill="#48323a"/>
<use href="#lf" transform="translate(455.0 398.8) rotate(148) scale(5.43 4.72)" fill="#584456"/>
<use href="#lf" transform="translate(482.0 390.3) rotate(101) scale(5.30 5.04)" fill="#48323a"/>
<use href="#lf" transform="translate(456.7 411.8) rotate(147) scale(6.28 4.61)" fill="#74844e"/>
<use href="#lf" transform="translate(409.5 411.8) rotate(119) scale(6.47 6.28)" fill="#48323a"/>
<use href="#lf" transform="translate(466.8 429.2) rotate(20) scale(5.11 4.52)" fill="#584456"/>
<use href="#lf" transform="translate(448.3 421.4) rotate(136) scale(5.35 5.16)" fill="#5e763c"/>
<use href="#lf" transform="translate(483.3 406.6) rotate(88) scale(6.33 5.28)" fill="#55362f"/>
<use href="#lf" transform="translate(406.2 376.8) rotate(143) scale(5.51 4.64)" fill="#3b2b32"/>
<use href="#lf" transform="translate(393.3 387.2) rotate(328) scale(3.99 3.16)" fill="#36272d"/>
<use href="#lf" transform="translate(394.2 382.9) rotate(85) scale(4.51 4.51)" fill="#45303a"/>
<use href="#lf" transform="translate(395.1 378.7) rotate(314) scale(5.12 4.91)" fill="#584456"/>
<use href="#lf" transform="translate(396.9 374.9) rotate(290) scale(4.56 4.08)" fill="#48323a"/>
<use href="#lf" transform="translate(398.8 371.1) rotate(44) scale(4.56 3.33)" fill="#45303a"/>
<use href="#lf" transform="translate(401.6 369.3) rotate(45) scale(5.23 4.56)" fill="#36272d"/>
<use href="#lf" transform="translate(404.5 367.5) rotate(107) scale(4.62 3.65)" fill="#63506a"/>
<use href="#lf" transform="translate(407.4 366.8) rotate(23) scale(4.38 4.14)" fill="#50302c"/>
<use href="#lf" transform="translate(410.2 366.2) rotate(128) scale(4.52 3.47)" fill="#4a3040"/>
<use href="#lf" transform="translate(413.2 367.5) rotate(164) scale(4.35 3.45)" fill="#584456"/>
<use href="#lf" transform="translate(416.1 368.8) rotate(336) scale(4.70 3.95)" fill="#403038"/>
<use href="#lf" transform="translate(419.4 368.9) rotate(106) scale(4.17 4.04)" fill="#63506a"/>
<use href="#lf" transform="translate(422.7 369.1) rotate(302) scale(4.15 4.03)" fill="#584456"/>
<use href="#lf" transform="translate(426.0 369.2) rotate(229) scale(3.83 3.82)" fill="#63506a"/>
<use href="#lf" transform="translate(429.2 369.3) rotate(228) scale(4.16 4.10)" fill="#48323a"/>
<use href="#lf" transform="translate(432.5 372.3) rotate(234) scale(5.56 5.10)" fill="#3f2936"/>
<use href="#lf" transform="translate(435.8 375.4) rotate(324) scale(4.36 3.99)" fill="#55362f"/>
<use href="#lf" transform="translate(438.9 376.5) rotate(251) scale(4.04 3.37)" fill="#403038"/>
<use href="#lf" transform="translate(442.0 377.5) rotate(80) scale(3.94 2.90)" fill="#3f2936"/>
<use href="#lf" transform="translate(445.2 377.0) rotate(97) scale(5.04 3.89)" fill="#63506a"/>
<use href="#lf" transform="translate(448.3 376.4) rotate(285) scale(5.00 4.70)" fill="#584456"/>
<use href="#lf" transform="translate(451.4 376.8) rotate(42) scale(4.74 3.65)" fill="#36272d"/>
<use href="#lf" transform="translate(454.6 377.2) rotate(334) scale(4.34 3.33)" fill="#4a2e33"/>
<use href="#lf" transform="translate(457.4 375.4) rotate(240) scale(4.04 4.02)" fill="#50302c"/>
<use href="#lf" transform="translate(460.3 373.5) rotate(190) scale(4.59 4.47)" fill="#36272d"/>
<use href="#lf" transform="translate(463.1 372.2) rotate(211) scale(3.81 2.96)" fill="#36272d"/>
<use href="#lf" transform="translate(466.0 370.9) rotate(31) scale(5.25 5.23)" fill="#3f2936"/>
<use href="#lf" transform="translate(469.4 369.5) rotate(65) scale(4.14 3.58)" fill="#63506a"/>
<use href="#lf" transform="translate(472.8 368.2) rotate(323) scale(4.14 3.67)" fill="#3b2b32"/>
<use href="#lf" transform="translate(476.1 369.3) rotate(211) scale(5.45 5.33)" fill="#3b2b32"/>
<use href="#lf" transform="translate(479.4 370.4) rotate(65) scale(4.70 4.39)" fill="#36272d"/>
<use href="#lf" transform="translate(482.3 371.7) rotate(115) scale(5.44 5.08)" fill="#50302c"/>
<use href="#lf" transform="translate(485.2 373.1) rotate(182) scale(4.73 4.28)" fill="#4a2e33"/>
<use href="#lf" transform="translate(486.6 376.4) rotate(343) scale(4.74 4.16)" fill="#4e3540"/>
<use href="#lf" transform="translate(487.9 379.7) rotate(40) scale(5.19 4.00)" fill="#55362f"/>
<use href="#lf" transform="translate(485.9 383.5) rotate(278) scale(4.59 4.20)" fill="#403038"/>
<use href="#lf" transform="translate(483.8 387.4) rotate(93) scale(5.10 3.91)" fill="#36272d"/>
<use href="#lf" transform="translate(482.9 391.1) rotate(180) scale(4.84 3.69)" fill="#3b2b32"/>
<use href="#lf" transform="translate(482.1 394.8) rotate(19) scale(5.55 5.34)" fill="#50302c"/>
<use href="#lf" transform="translate(482.8 399.0) rotate(55) scale(4.12 3.64)" fill="#3b2b32"/>
<use href="#lf" transform="translate(483.5 403.1) rotate(181) scale(5.25 4.09)" fill="#63506a"/>
<use href="#lf" transform="translate(482.0 406.3) rotate(26) scale(5.24 4.56)" fill="#4e3540"/>
<use href="#lf" transform="translate(480.5 409.6) rotate(285) scale(4.78 4.24)" fill="#48323a"/>
<use href="#lf" transform="translate(479.1 412.3) rotate(153) scale(3.90 3.10)" fill="#63506a"/>
<use href="#lf" transform="translate(477.6 415.0) rotate(189) scale(4.92 4.57)" fill="#3f2936"/>
<use href="#lf" transform="translate(476.3 418.7) rotate(234) scale(4.70 3.53)" fill="#36272d"/>
<use href="#lf" transform="translate(474.9 422.3) rotate(58) scale(4.26 3.82)" fill="#63506a"/>
<use href="#lf" transform="translate(474.1 426.0) rotate(164) scale(4.87 4.01)" fill="#584456"/>
<use href="#lf" transform="translate(473.3 429.8) rotate(78) scale(4.46 3.29)" fill="#3b2b32"/>
<use href="#lf" transform="translate(473.4 433.6) rotate(216) scale(5.16 3.84)" fill="#4e3540"/>
<use href="#lf" transform="translate(473.6 437.5) rotate(268) scale(4.62 3.24)" fill="#3b2b32"/>
<use href="#lf" transform="translate(474.7 441.4) rotate(189) scale(4.54 3.71)" fill="#45303a"/>
<use href="#lf" transform="translate(475.8 445.3) rotate(153) scale(4.34 4.30)" fill="#45303a"/>
<use href="#lf" transform="translate(473.9 447.2) rotate(258) scale(5.02 4.44)" fill="#63506a"/>
<use href="#lf" transform="translate(472.1 449.1) rotate(43) scale(4.33 3.58)" fill="#48323a"/>
<use href="#lf" transform="translate(469.6 446.1) rotate(82) scale(3.95 3.17)" fill="#3f2936"/>
<use href="#lf" transform="translate(467.1 443.1) rotate(220) scale(5.57 4.16)" fill="#3b2b32"/>
<use href="#lf" transform="translate(463.8 442.0) rotate(358) scale(4.85 3.90)" fill="#63506a"/>
<use href="#lf" transform="translate(460.4 440.9) rotate(311) scale(5.05 4.94)" fill="#4a3040"/>
<use href="#lf" transform="translate(457.2 441.7) rotate(310) scale(4.12 3.35)" fill="#48323a"/>
<use href="#lf" transform="translate(454.0 442.7) rotate(78) scale(5.21 4.03)" fill="#584456"/>
<use href="#lf" transform="translate(451.3 445.6) rotate(289) scale(5.23 3.98)" fill="#50302c"/>
<use href="#lf" transform="translate(448.5 448.5) rotate(168) scale(4.19 3.52)" fill="#3f2936"/>
<use href="#lf" transform="translate(445.7 447.5) rotate(226) scale(4.68 4.49)" fill="#4e3540"/>
<use href="#lf" transform="translate(443.0 446.5) rotate(138) scale(4.17 2.98)" fill="#45303a"/>
<use href="#lf" transform="translate(441.1 443.5) rotate(342) scale(4.30 3.03)" fill="#4a3040"/>
<use href="#lf" transform="translate(439.3 440.5) rotate(94) scale(4.13 3.59)" fill="#55362f"/>
<use href="#lf" transform="translate(437.0 438.5) rotate(78) scale(4.97 4.02)" fill="#45303a"/>
<use href="#lf" transform="translate(434.8 436.6) rotate(337) scale(4.08 3.02)" fill="#584456"/>
<use href="#lf" transform="translate(431.2 435.2) rotate(302) scale(4.23 2.99)" fill="#45303a"/>
<use href="#lf" transform="translate(427.6 433.9) rotate(138) scale(4.38 4.19)" fill="#45303a"/>
<use href="#lf" transform="translate(423.0 432.6) rotate(92) scale(4.49 4.04)" fill="#36272d"/>
<use href="#lf" transform="translate(418.3 431.4) rotate(219) scale(4.34 3.09)" fill="#50302c"/>
<use href="#lf" transform="translate(414.5 433.0) rotate(214) scale(4.07 3.10)" fill="#3b2b32"/>
<use href="#lf" transform="translate(410.5 434.6) rotate(172) scale(4.54 3.36)" fill="#63506a"/>
<use href="#lf" transform="translate(406.7 434.3) rotate(94) scale(5.07 4.24)" fill="#63506a"/>
<use href="#lf" transform="translate(402.8 433.9) rotate(317) scale(4.48 3.85)" fill="#3f2936"/>
<use href="#lf" transform="translate(398.9 432.6) rotate(49) scale(4.61 4.42)" fill="#36272d"/>
<use href="#lf" transform="translate(395.1 431.3) rotate(105) scale(4.21 3.72)" fill="#584456"/>
<use href="#lf" transform="translate(393.7 427.0) rotate(305) scale(4.05 3.60)" fill="#63506a"/>
<use href="#lf" transform="translate(392.3 422.8) rotate(291) scale(4.82 3.80)" fill="#63506a"/>
<use href="#lf" transform="translate(394.4 416.2) rotate(331) scale(5.01 4.34)" fill="#48323a"/>
<use href="#lf" transform="translate(396.5 409.6) rotate(44) scale(4.44 4.26)" fill="#403038"/>
<use href="#lf" transform="translate(395.5 405.0) rotate(228) scale(4.22 3.97)" fill="#45303a"/>
<use href="#lf" transform="translate(394.5 400.3) rotate(177) scale(4.02 3.27)" fill="#50302c"/>
<use href="#lf" transform="translate(396.0 397.5) rotate(179) scale(4.39 3.37)" fill="#3f2936"/>
<use href="#lf" transform="translate(397.4 394.8) rotate(73) scale(5.47 4.10)" fill="#403038"/>
<use href="#lf" transform="translate(395.4 391.0) rotate(86) scale(5.00 4.61)" fill="#45303a"/>
<use href="#lf" transform="translate(476.7 419.2) rotate(290) scale(6.38 5.45)" fill="#50302c"/>
<use href="#lf" transform="translate(403.3 378.5) rotate(199) scale(5.88 5.71)" fill="#63506a"/>
<use href="#lf" transform="translate(474.2 379.8) rotate(43) scale(6.37 6.17)" fill="#45303a"/>
<use href="#lf" transform="translate(425.9 400.3) rotate(136) scale(4.85 3.66)" fill="#4a3040"/>
<use href="#lf" transform="translate(415.3 431.4) rotate(319) scale(5.93 3.90)" fill="#45303a"/>
<use href="#lf" transform="translate(432.4 420.5) rotate(321) scale(5.03 4.71)" fill="#3f2936"/>
<use href="#lf" transform="translate(454.8 417.2) rotate(231) scale(6.33 6.23)" fill="#5e763c"/>
<use href="#lf" transform="translate(422.6 387.1) rotate(207) scale(5.07 4.66)" fill="#48323a"/>
<use href="#lf" transform="translate(452.3 441.4) rotate(223) scale(5.71 4.93)" fill="#55362f"/>
<use href="#lf" transform="translate(438.2 429.5) rotate(25) scale(4.35 4.17)" fill="#50302c"/>
<use href="#lf" transform="translate(451.0 380.4) rotate(327) scale(5.12 4.77)" fill="#3b2b32"/>
<use href="#lf" transform="translate(448.7 387.7) rotate(98) scale(5.84 4.53)" fill="#50302c"/>
<use href="#lf" transform="translate(471.8 417.8) rotate(54) scale(6.54 4.85)" fill="#536636"/>
<use href="#lf" transform="translate(448.5 401.2) rotate(187) scale(4.73 3.08)" fill="#55362f"/>
<use href="#lf" transform="translate(458.4 421.2) rotate(306) scale(5.51 4.79)" fill="#45303a"/>
<use href="#lf" transform="translate(443.0 413.0) rotate(299) scale(5.55 4.12)" fill="#584456"/>
<use href="#lf" transform="translate(469.0 437.4) rotate(7) scale(4.45 4.01)" fill="#403038"/>
<use href="#lf" transform="translate(419.0 425.4) rotate(247) scale(5.87 4.14)" fill="#4e3540"/>
<use href="#lf" transform="translate(436.7 391.6) rotate(177) scale(5.69 4.28)" fill="#4a3040"/>
<use href="#lf" transform="translate(429.6 424.0) rotate(132) scale(5.20 3.81)" fill="#50302c"/>
<use href="#lf" transform="translate(405.1 369.1) rotate(117) scale(4.80 4.66)" fill="#4e3540"/>
<use href="#lf" transform="translate(480.5 384.5) rotate(316) scale(5.97 5.59)" fill="#45303a"/>
<use href="#lf" transform="translate(435.1 396.5) rotate(112) scale(6.33 5.25)" fill="#50302c"/>
<use href="#lf" transform="translate(413.8 419.4) rotate(15) scale(5.83 5.56)" fill="#55362f"/>
<use href="#lf" transform="translate(445.9 398.7) rotate(91) scale(4.33 3.86)" fill="#403038"/>
<use href="#lf" transform="translate(474.5 389.7) rotate(229) scale(4.81 4.33)" fill="#584456"/>
<use href="#lf" transform="translate(433.9 375.4) rotate(120) scale(4.98 3.60)" fill="#403038"/>
<use href="#lf" transform="translate(404.9 393.6) rotate(47) scale(5.55 4.86)" fill="#55362f"/>
<use href="#lf" transform="translate(398.4 369.3) rotate(266) scale(4.50 4.19)" fill="#3f2936"/>
<use href="#lf" transform="translate(460.7 429.1) rotate(136) scale(4.50 3.39)" fill="#4a2e33"/>
<use href="#lf" transform="translate(464.9 417.9) rotate(351) scale(5.76 5.65)" fill="#63506a"/>
<use href="#lf" transform="translate(431.4 392.5) rotate(48) scale(6.53 4.86)" fill="#63506a"/>
<use href="#lf" transform="translate(411.1 424.8) rotate(240) scale(4.80 4.79)" fill="#4a2e33"/>
<use href="#lf" transform="translate(418.8 403.4) rotate(257) scale(4.32 3.10)" fill="#465430"/>
<use href="#lf" transform="translate(401.3 407.8) rotate(194) scale(5.06 3.87)" fill="#55362f"/>
<use href="#lf" transform="translate(420.9 376.5) rotate(195) scale(4.26 3.03)" fill="#50302c"/>
<use href="#lf" transform="translate(404.6 434.2) rotate(158) scale(4.36 3.27)" fill="#4a2e33"/>
<use href="#lf" transform="translate(439.1 396.9) rotate(222) scale(5.14 4.04)" fill="#4a3040"/>
<use href="#lf" transform="translate(437.2 424.4) rotate(197) scale(5.87 5.59)" fill="#403038"/>
<use href="#lf" transform="translate(437.8 435.3) rotate(300) scale(5.26 5.14)" fill="#36272d"/>
<use href="#lf" transform="translate(483.6 375.8) rotate(176) scale(4.80 3.38)" fill="#45303a"/>
<use href="#lf" transform="translate(461.0 404.3) rotate(97) scale(6.32 5.49)" fill="#3f2936"/>
<use href="#lf" transform="translate(451.9 386.7) rotate(82) scale(4.86 3.50)" fill="#50302c"/>
<use href="#lf" transform="translate(403.4 414.4) rotate(201) scale(5.52 5.32)" fill="#465430"/>
<use href="#lf" transform="translate(463.7 385.1) rotate(28) scale(4.94 3.79)" fill="#4e3540"/>
<use href="#lf" transform="translate(418.6 391.1) rotate(284) scale(4.54 3.72)" fill="#55362f"/>
<use href="#lf" transform="translate(470.7 391.8) rotate(291) scale(5.19 4.39)" fill="#55362f"/>
<use href="#lf" transform="translate(417.3 413.3) rotate(222) scale(4.72 3.52)" fill="#3f2936"/>
<use href="#lf" transform="translate(457.2 385.8) rotate(311) scale(6.45 5.20)" fill="#403038"/>
<use href="#lf" transform="translate(427.2 398.8) rotate(261) scale(6.20 5.89)" fill="#4e3540"/>
<use href="#lf" transform="translate(447.2 407.3) rotate(194) scale(6.47 5.02)" fill="#3f2936"/>
<use href="#lf" transform="translate(399.8 398.8) rotate(112) scale(6.01 4.89)" fill="#36272d"/>
<use href="#lf" transform="translate(464.8 378.7) rotate(23) scale(6.33 4.14)" fill="#584456"/>
<use href="#lf" transform="translate(410.2 408.2) rotate(292) scale(5.47 4.50)" fill="#63506a"/>
<use href="#lf" transform="translate(483.6 379.7) rotate(191) scale(4.94 4.54)" fill="#4a2e33"/>
<use href="#lf" transform="translate(444.9 391.6) rotate(36) scale(6.57 6.20)" fill="#55362f"/>
<use href="#lf" transform="translate(402.9 417.7) rotate(324) scale(5.18 4.41)" fill="#3b2b32"/>
<use href="#lf" transform="translate(399.4 414.0) rotate(140) scale(4.75 3.54)" fill="#4a2e33"/>
<use href="#lf" transform="translate(433.2 409.5) rotate(226) scale(6.58 4.92)" fill="#5e763c"/>
<use href="#lf" transform="translate(441.2 376.2) rotate(116) scale(6.37 4.73)" fill="#45303a"/>
<use href="#lf" transform="translate(399.9 382.4) rotate(65) scale(4.71 4.29)" fill="#3b2b32"/>
<use href="#lf" transform="translate(445.0 402.6) rotate(245) scale(5.51 3.88)" fill="#465430"/>
<use href="#lf" transform="translate(462.6 435.0) rotate(66) scale(5.09 3.33)" fill="#3b2b32"/>
<use href="#lf" transform="translate(415.7 371.1) rotate(145) scale(5.41 5.31)" fill="#584456"/>
<use href="#lf" transform="translate(428.9 374.1) rotate(274) scale(6.22 5.96)" fill="#3b2b32"/>
<use href="#lf" transform="translate(446.5 440.8) rotate(271) scale(4.97 4.24)" fill="#45303a"/>
<use href="#lf" transform="translate(467.1 415.1) rotate(170) scale(4.97 3.94)" fill="#50302c"/>
<use href="#lf" transform="translate(459.9 375.4) rotate(64) scale(5.89 3.98)" fill="#3f2936"/>
<use href="#lf" transform="translate(454.0 429.5) rotate(332) scale(5.14 4.74)" fill="#4e3540"/>
<use href="#lf" transform="translate(407.5 385.0) rotate(4) scale(5.46 4.76)" fill="#63506a"/>
<use href="#lf" transform="translate(411.6 380.8) rotate(232) scale(5.11 4.42)" fill="#48323a"/>
<use href="#lf" transform="translate(456.4 402.9) rotate(158) scale(5.03 4.16)" fill="#55362f"/>
<use href="#lf" transform="translate(431.1 436.5) rotate(41) scale(5.56 4.96)" fill="#63506a"/>
<use href="#lf" transform="translate(474.4 436.4) rotate(240) scale(5.29 4.99)" fill="#55362f"/>
<use href="#lf" transform="translate(479.2 374.2) rotate(135) scale(5.40 4.60)" fill="#36272d"/>
<use href="#lf" transform="translate(423.5 412.3) rotate(12) scale(5.44 4.07)" fill="#50302c"/>
<use href="#lf" transform="translate(448.0 424.5) rotate(20) scale(4.31 3.51)" fill="#74844e"/>
<use href="#lf" transform="translate(483.5 394.7) rotate(266) scale(6.58 4.71)" fill="#584456"/>
<use href="#lf" transform="translate(438.4 384.9) rotate(199) scale(5.33 5.08)" fill="#3b2b32"/>
<use href="#lf" transform="translate(464.8 374.0) rotate(356) scale(4.50 3.10)" fill="#50302c"/>
<use href="#lf" transform="translate(444.5 437.3) rotate(333) scale(4.65 4.55)" fill="#403038"/>
<use href="#lf" transform="translate(454.5 435.8) rotate(287) scale(6.19 4.57)" fill="#36272d"/>
<use href="#lf" transform="translate(476.0 370.4) rotate(67) scale(4.83 4.34)" fill="#3b2b32"/>
<use href="#lf" transform="translate(465.4 394.8) rotate(291) scale(4.80 3.15)" fill="#36272d"/>
<use href="#lf" transform="translate(477.1 415.4) rotate(176) scale(5.22 3.53)" fill="#48323a"/>
<use href="#lf" transform="translate(422.8 381.7) rotate(283) scale(5.53 5.29)" fill="#50302c"/>
<use href="#lf" transform="translate(473.6 443.0) rotate(179) scale(4.37 4.02)" fill="#3b2b32"/>
<use href="#lf" transform="translate(471.8 384.8) rotate(326) scale(5.52 5.41)" fill="#403038"/>
<use href="#lf" transform="translate(433.4 431.1) rotate(64) scale(6.15 4.08)" fill="#584456"/>
<use href="#lf" transform="translate(432.6 385.3) rotate(311) scale(5.03 3.48)" fill="#3f2936"/>
<use href="#lf" transform="translate(443.5 426.3) rotate(140) scale(4.64 4.01)" fill="#4a2e33"/>
<use href="#lf" transform="translate(467.2 441.2) rotate(26) scale(6.36 4.60)" fill="#4a2e33"/>
<use href="#lf" transform="translate(425.6 408.4) rotate(316) scale(5.71 4.83)" fill="#48323a"/>
<use href="#lf" transform="translate(394.9 429.5) rotate(136) scale(6.59 5.89)" fill="#584456"/>
<use href="#lf" transform="translate(413.2 391.4) rotate(341) scale(6.23 5.36)" fill="#4a2e33"/>
<use href="#lf" transform="translate(460.8 408.0) rotate(65) scale(5.87 4.77)" fill="#74844e"/>
<use href="#lf" transform="translate(427.8 430.9) rotate(42) scale(4.51 3.89)" fill="#584456"/>
<use href="#lf" transform="translate(472.7 409.9) rotate(71) scale(5.06 3.65)" fill="#63506a"/>
<use href="#lf" transform="translate(399.5 433.9) rotate(313) scale(5.92 4.70)" fill="#403038"/>
<use href="#lf" transform="translate(403.6 372.6) rotate(227) scale(4.55 3.55)" fill="#55362f"/>
<use href="#lf" transform="translate(421.6 409.4) rotate(101) scale(5.67 5.55)" fill="#465430"/>
<use href="#lf" transform="translate(415.5 406.7) rotate(253) scale(5.03 3.48)" fill="#74844e"/>
<use href="#lf" transform="translate(417.2 378.3) rotate(316) scale(4.50 3.99)" fill="#45303a"/>
<use href="#lf" transform="translate(408.4 399.1) rotate(336) scale(5.29 3.81)" fill="#55362f"/>
<use href="#lf" transform="translate(403.2 423.6) rotate(79) scale(5.19 4.14)" fill="#584456"/>
<use href="#lf" transform="translate(478.5 406.7) rotate(159) scale(4.88 4.30)" fill="#3f2936"/>
<use href="#lf" transform="translate(458.0 390.2) rotate(220) scale(4.23 2.95)" fill="#5e763c"/>
<use href="#lf" transform="translate(431.2 403.9) rotate(91) scale(6.35 4.75)" fill="#55362f"/>
<use href="#lf" transform="translate(394.4 417.5) rotate(317) scale(4.44 3.81)" fill="#403038"/>
<use href="#lf" transform="translate(413.0 403.0) rotate(36) scale(5.51 5.11)" fill="#45303a"/>
<use href="#lf" transform="translate(422.0 423.7) rotate(11) scale(4.24 3.27)" fill="#63506a"/>
<use href="#lf" transform="translate(447.6 446.2) rotate(342) scale(6.35 5.62)" fill="#3b2b32"/>
<use href="#lf" transform="translate(459.5 395.2) rotate(26) scale(4.57 3.48)" fill="#74844e"/>
<use href="#lf" transform="translate(446.1 430.7) rotate(218) scale(5.81 5.76)" fill="#48323a"/>
<use href="#lf" transform="translate(401.9 430.2) rotate(142) scale(6.58 5.78)" fill="#48323a"/>
<use href="#lf" transform="translate(449.2 415.5) rotate(359) scale(5.88 5.17)" fill="#4a5c32"/>
</g>
<path d="M402 447Q409.7 441.2 414 432" stroke="#c8c9ae" stroke-width=".9" fill="none" opacity=".65"/>
<path d="M408 449Q418.1 440.3 428 431" stroke="#c8c9ae" stroke-width=".9" fill="none" opacity=".65"/>
<path d="M416 447Q424.0 438.8 432 428" stroke="#c8c9ae" stroke-width=".9" fill="none" opacity=".65"/>
<path d="M423 448Q430.6 435.4 438 426" stroke="#c8c9ae" stroke-width=".9" fill="none" opacity=".65"/>
<path d="M430 446Q438.3 431.5 443 421" stroke="#c8c9ae" stroke-width=".9" fill="none" opacity=".65"/>
<path d="M435 449Q443.8 441.3 447 432" stroke="#c8c9ae" stroke-width=".9" fill="none" opacity=".65"/>
<path d="M441 447Q447.7 437.6 451 425" stroke="#c8c9ae" stroke-width=".9" fill="none" opacity=".65"/>
<path d="M394 421Q402.0 415.4 408 406" stroke="#c8c9ae" stroke-width=".9" fill="none" opacity=".65"/>
<path d="M391 413Q396.3 408.5 402 401" stroke="#c8c9ae" stroke-width=".9" fill="none" opacity=".65"/>
<path d="M396 431Q400.6 422.1 406 416" stroke="#c8c9ae" stroke-width=".9" fill="none" opacity=".65"/>
<path d="M445 440Q449.7 428.5 456 418" stroke="#c8c9ae" stroke-width=".9" fill="none" opacity=".65"/>
<path d="M427 440Q440.0 427.0 449 411" stroke="#c8c9ae" stroke-width=".9" fill="none" opacity=".65"/>
<path d="M398 444Q401.7 439.7 410 436" stroke="#c8c9ae" stroke-width=".9" fill="none" opacity=".65"/>
<path d="M412 442Q418.4 440.9 424 436" stroke="#c8c9ae" stroke-width=".9" fill="none" opacity=".65"/>
<g stroke="#17170f" stroke-opacity=".45" stroke-width=".14">
<use href="#lf" transform="translate(504.8 389.0) rotate(-30) scale(5.20 4.94)" fill="#5e4a5e"/>
<use href="#lf" transform="translate(495.7 383.4) rotate(10) scale(2.80 2.66)" fill="#4e3444"/>
<use href="#lf" transform="translate(513.0 403.4) rotate(-70) scale(5.60 5.32)" fill="#55323c"/>
<use href="#lf" transform="translate(508.0 417.5) rotate(-80) scale(6.60 6.27)" fill="#5a3436"/>
<use href="#lf" transform="translate(514.0 435.7) rotate(-100) scale(5.60 5.32)" fill="#5e3a44"/>
<use href="#lf" transform="translate(480.5 458.4) rotate(200) scale(6.20 5.89)" fill="#5a3038"/>
<use href="#lf" transform="translate(445.7 460.0) rotate(200) scale(3.00 2.85)" fill="#56343a"/>
<use href="#lf" transform="translate(490.5 423.0) rotate(-60) scale(8.00 7.60)" fill="#56342e"/>
<use href="#lf" transform="translate(499.5 434.5) rotate(-120) scale(7.60 7.22)" fill="#5c3630"/>
<use href="#lf" transform="translate(474.0 448.0) rotate(180) scale(5.00 4.75)" fill="#5c4058"/>
<use href="#lf" transform="translate(474.0 372.0) rotate(0) scale(8.00 7.60)" fill="#4c2c32"/>
<use href="#lf" transform="translate(453.6 379.0) rotate(30) scale(7.00 6.65)" fill="#54382e"/>
<use href="#lf" transform="translate(446.0 449.0) rotate(150) scale(5.00 4.75)" fill="#4e3040"/>
</g></g>
</g>
<rect x="5.5" y="288.3" width="19.8" height="22.9" fill="#fff" stroke="#555" stroke-width=".9"/>
<text class="b" x="10.7" y="305.2" font-size="16.2" textLength="10.6" lengthAdjust="spacingAndGlyphs" style="fill:#1a1a1a">C</text>
<rect x="80.7" y="311.8" width="35.8" height="22.4" fill="#fff" stroke="#555" stroke-width=".9"/>
<text x="85.7" y="327.8" font-size="15.3" textLength="26" lengthAdjust="spacingAndGlyphs" style="fill:#1a1a1a">RB2</text>
<rect x="251" y="311.6" width="35.5" height="22.5" fill="#fff" stroke="#555" stroke-width=".9"/>
<text x="256.2" y="327.7" font-size="15.3" textLength="26" lengthAdjust="spacingAndGlyphs" style="fill:#1a1a1a">RB5</text>
<rect x="414.5" y="311.7" width="35.8" height="22.3" fill="#fff" stroke="#555" stroke-width=".9"/>
<text x="419.5" y="327.8" font-size="15.3" textLength="26" lengthAdjust="spacingAndGlyphs" style="fill:#1a1a1a">RB9</text>
</svg></body></html>
